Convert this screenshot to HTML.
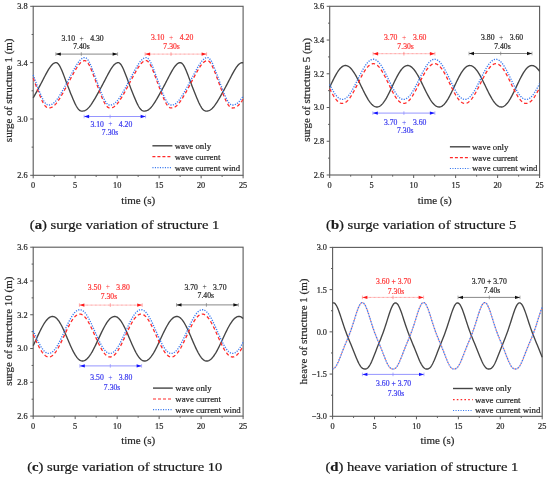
<!DOCTYPE html>
<html><head><meta charset="utf-8"><title>Figure</title>
<style>
html,body{margin:0;padding:0;background:#fff;}
body{width:550px;height:477px;overflow:hidden;}
svg{display:block;filter:blur(0.35px);}
svg text{font-family:"Liberation Serif", "DejaVu Serif", serif;}
.k{stroke:#2a2a2a;stroke-width:0.25px;}
</style></head>
<body>
<svg width="550" height="477" viewBox="0 0 550 477">
<rect width="550" height="477" fill="#fff"/>
<rect x="33.20" y="6.30" width="209.90" height="169.00" fill="none" stroke="#5a5a5a" stroke-width="1.1"/>
<line x1="33.20" y1="175.30" x2="33.20" y2="178.30" stroke="#5a5a5a" stroke-width="1"/>
<text x="33.20" y="187.90" font-size="8.3" text-anchor="middle" fill="#2a2a2a" stroke="#2a2a2a" stroke-width="0.22">0</text>
<line x1="75.18" y1="175.30" x2="75.18" y2="178.30" stroke="#5a5a5a" stroke-width="1"/>
<text x="75.18" y="187.90" font-size="8.3" text-anchor="middle" fill="#2a2a2a" stroke="#2a2a2a" stroke-width="0.22">5</text>
<line x1="117.16" y1="175.30" x2="117.16" y2="178.30" stroke="#5a5a5a" stroke-width="1"/>
<text x="117.16" y="187.90" font-size="8.3" text-anchor="middle" fill="#2a2a2a" stroke="#2a2a2a" stroke-width="0.22">10</text>
<line x1="159.14" y1="175.30" x2="159.14" y2="178.30" stroke="#5a5a5a" stroke-width="1"/>
<text x="159.14" y="187.90" font-size="8.3" text-anchor="middle" fill="#2a2a2a" stroke="#2a2a2a" stroke-width="0.22">15</text>
<line x1="201.12" y1="175.30" x2="201.12" y2="178.30" stroke="#5a5a5a" stroke-width="1"/>
<text x="201.12" y="187.90" font-size="8.3" text-anchor="middle" fill="#2a2a2a" stroke="#2a2a2a" stroke-width="0.22">20</text>
<line x1="243.10" y1="175.30" x2="243.10" y2="178.30" stroke="#5a5a5a" stroke-width="1"/>
<text x="243.10" y="187.90" font-size="8.3" text-anchor="middle" fill="#2a2a2a" stroke="#2a2a2a" stroke-width="0.22">25</text>
<line x1="54.19" y1="175.30" x2="54.19" y2="176.90" stroke="#5a5a5a" stroke-width="1"/>
<line x1="96.17" y1="175.30" x2="96.17" y2="176.90" stroke="#5a5a5a" stroke-width="1"/>
<line x1="138.15" y1="175.30" x2="138.15" y2="176.90" stroke="#5a5a5a" stroke-width="1"/>
<line x1="180.13" y1="175.30" x2="180.13" y2="176.90" stroke="#5a5a5a" stroke-width="1"/>
<line x1="222.11" y1="175.30" x2="222.11" y2="176.90" stroke="#5a5a5a" stroke-width="1"/>
<line x1="30.20" y1="175.30" x2="33.20" y2="175.30" stroke="#5a5a5a" stroke-width="1"/>
<text x="27.60" y="178.20" font-size="8.3" text-anchor="end" fill="#2a2a2a" stroke="#2a2a2a" stroke-width="0.22">2.6</text>
<line x1="30.20" y1="118.97" x2="33.20" y2="118.97" stroke="#5a5a5a" stroke-width="1"/>
<text x="27.60" y="121.87" font-size="8.3" text-anchor="end" fill="#2a2a2a" stroke="#2a2a2a" stroke-width="0.22">3.0</text>
<line x1="30.20" y1="62.63" x2="33.20" y2="62.63" stroke="#5a5a5a" stroke-width="1"/>
<text x="27.60" y="65.53" font-size="8.3" text-anchor="end" fill="#2a2a2a" stroke="#2a2a2a" stroke-width="0.22">3.4</text>
<line x1="30.20" y1="6.30" x2="33.20" y2="6.30" stroke="#5a5a5a" stroke-width="1"/>
<text x="27.60" y="9.20" font-size="8.3" text-anchor="end" fill="#2a2a2a" stroke="#2a2a2a" stroke-width="0.22">3.8</text>
<line x1="31.60" y1="147.13" x2="33.20" y2="147.13" stroke="#5a5a5a" stroke-width="1"/>
<line x1="31.60" y1="90.80" x2="33.20" y2="90.80" stroke="#5a5a5a" stroke-width="1"/>
<line x1="31.60" y1="34.47" x2="33.20" y2="34.47" stroke="#5a5a5a" stroke-width="1"/>
<text x="138.15" y="203.80" font-size="11" text-anchor="middle" fill="#2a2a2a" stroke="#2a2a2a" stroke-width="0.22">time (s)</text>
<text transform="translate(12.40,90.30) rotate(-90)" font-size="11" text-anchor="middle" fill="#2a2a2a" stroke="#2a2a2a" stroke-width="0.22">surge of structure 1 (m)</text>
<line x1="152.40" y1="145.80" x2="172.40" y2="145.80" stroke="#454545" stroke-width="1.4"/>
<line x1="152.40" y1="156.70" x2="172.40" y2="156.70" stroke="#ff2a2a" stroke-width="1.2" stroke-dasharray="3 2"/>
<line x1="152.40" y1="167.60" x2="172.40" y2="167.60" stroke="#3a7af0" stroke-width="1.2" stroke-dasharray="1.1 1.4"/>
<text x="174.70" y="148.70" font-size="8.8" fill="#2a2a2a" stroke="#2a2a2a" stroke-width="0.22">wave only</text>
<text x="174.70" y="159.60" font-size="8.8" fill="#2a2a2a" stroke="#2a2a2a" stroke-width="0.22">wave current</text>
<text x="174.70" y="170.50" font-size="8.8" fill="#2a2a2a" stroke="#2a2a2a" stroke-width="0.22">wave current wind</text>
<path d="M33.20,97.84 L33.90,96.62 L34.60,95.39 L35.30,94.14 L36.00,92.88 L36.70,91.61 L37.40,90.33 L38.10,89.04 L38.80,87.74 L39.50,86.43 L40.20,85.11 L40.90,83.78 L41.60,82.45 L42.30,81.10 L43.00,79.75 L43.70,78.41 L44.39,77.06 L45.09,75.73 L45.79,74.41 L46.49,73.11 L47.19,71.85 L47.89,70.63 L48.59,69.45 L49.29,68.34 L49.99,67.30 L50.69,66.34 L51.39,65.48 L52.09,64.71 L52.79,64.05 L53.49,63.52 L54.19,63.10 L54.89,62.81 L55.59,62.66 L56.29,62.65 L56.99,62.87 L57.69,63.35 L58.39,64.07 L59.09,65.01 L59.79,66.16 L60.49,67.49 L61.19,68.97 L61.89,70.57 L62.59,72.28 L63.29,74.06 L63.99,75.88 L64.69,77.74 L65.38,79.61 L66.08,81.48 L66.78,83.34 L67.48,85.18 L68.18,87.01 L68.88,88.82 L69.58,90.61 L70.28,92.38 L70.98,94.13 L71.68,95.85 L72.38,97.55 L73.08,99.21 L73.78,100.82 L74.48,102.38 L75.18,103.85 L75.88,105.23 L76.58,106.50 L77.28,107.64 L77.98,108.62 L78.68,109.45 L79.38,110.11 L80.08,110.59 L80.78,110.90 L81.48,111.05 L82.18,111.08 L82.88,111.05 L83.58,110.95 L84.28,110.78 L84.98,110.52 L85.67,110.17 L86.37,109.73 L87.07,109.20 L87.77,108.59 L88.47,107.88 L89.17,107.10 L89.87,106.25 L90.57,105.33 L91.27,104.35 L91.97,103.32 L92.67,102.24 L93.37,101.12 L94.07,99.97 L94.77,98.79 L95.47,97.59 L96.17,96.37 L96.87,95.14 L97.57,93.89 L98.27,92.63 L98.97,91.36 L99.67,90.07 L100.37,88.78 L101.07,87.48 L101.77,86.17 L102.47,84.85 L103.17,83.52 L103.87,82.18 L104.57,80.83 L105.27,79.48 L105.97,78.14 L106.66,76.79 L107.36,75.46 L108.06,74.15 L108.76,72.86 L109.46,71.60 L110.16,70.39 L110.86,69.23 L111.56,68.13 L112.26,67.10 L112.96,66.16 L113.66,65.32 L114.36,64.57 L115.06,63.94 L115.76,63.42 L116.46,63.03 L117.16,62.77 L117.86,62.65 L118.56,62.67 L119.26,62.95 L119.96,63.47 L120.66,64.24 L121.36,65.22 L122.06,66.41 L122.76,67.77 L123.46,69.28 L124.16,70.91 L124.86,72.63 L125.56,74.42 L126.26,76.25 L126.96,78.11 L127.65,79.98 L128.35,81.85 L129.05,83.71 L129.75,85.55 L130.45,87.37 L131.15,89.18 L131.85,90.96 L132.55,92.73 L133.25,94.47 L133.95,96.19 L134.65,97.88 L135.35,99.54 L136.05,101.14 L136.75,102.68 L137.45,104.14 L138.15,105.50 L138.85,106.74 L139.55,107.85 L140.25,108.80 L140.95,109.60 L141.65,110.22 L142.35,110.66 L143.05,110.94 L143.75,111.06 L144.45,111.08 L145.15,111.04 L145.85,110.93 L146.55,110.74 L147.25,110.46 L147.95,110.09 L148.64,109.63 L149.34,109.09 L150.04,108.45 L150.74,107.73 L151.44,106.94 L152.14,106.07 L152.84,105.14 L153.54,104.15 L154.24,103.11 L154.94,102.02 L155.64,100.90 L156.34,99.74 L157.04,98.56 L157.74,97.35 L158.44,96.13 L159.14,94.89 L159.84,93.64 L160.54,92.37 L161.24,91.10 L161.94,89.82 L162.64,88.52 L163.34,87.22 L164.04,85.90 L164.74,84.58 L165.44,83.25 L166.14,81.91 L166.84,80.56 L167.54,79.22 L168.24,77.87 L168.94,76.53 L169.63,75.20 L170.33,73.89 L171.03,72.60 L171.73,71.36 L172.43,70.15 L173.13,69.00 L173.83,67.92 L174.53,66.91 L175.23,65.99 L175.93,65.16 L176.63,64.43 L177.33,63.82 L178.03,63.33 L178.73,62.97 L179.43,62.74 L180.13,62.64 L180.83,62.71 L181.53,63.03 L182.23,63.61 L182.93,64.42 L183.63,65.45 L184.33,66.67 L185.03,68.06 L185.73,69.60 L186.43,71.25 L187.13,72.98 L187.83,74.78 L188.53,76.62 L189.23,78.49 L189.93,80.36 L190.62,82.22 L191.32,84.08 L192.02,85.92 L192.72,87.73 L193.42,89.54 L194.12,91.32 L194.82,93.08 L195.52,94.82 L196.22,96.53 L196.92,98.22 L197.62,99.86 L198.32,101.45 L199.02,102.98 L199.72,104.42 L200.42,105.75 L201.12,106.97 L201.82,108.05 L202.52,108.98 L203.22,109.73 L203.92,110.32 L204.62,110.73 L205.32,110.98 L206.02,111.07 L206.72,111.07 L207.42,111.02 L208.12,110.90 L208.82,110.69 L209.52,110.39 L210.22,110.01 L210.92,109.53 L211.61,108.97 L212.31,108.31 L213.01,107.58 L213.71,106.77 L214.41,105.89 L215.11,104.95 L215.81,103.94 L216.51,102.89 L217.21,101.80 L217.91,100.67 L218.61,99.50 L219.31,98.32 L220.01,97.11 L220.71,95.88 L221.41,94.64 L222.11,93.39 L222.81,92.12 L223.51,90.84 L224.21,89.56 L224.91,88.26 L225.61,86.96 L226.31,85.64 L227.01,84.32 L227.71,82.98 L228.41,81.64 L229.11,80.29 L229.81,78.95 L230.51,77.60 L231.21,76.26 L231.91,74.93 L232.60,73.63 L233.30,72.35 L234.00,71.11 L234.70,69.92 L235.40,68.78 L236.10,67.71 L236.80,66.72 L237.50,65.81 L238.20,65.00 L238.90,64.30 L239.60,63.72 L240.30,63.25 L241.00,62.91 L241.70,62.71 L242.40,62.63 L243.10,62.75" fill="none" stroke="#454545" stroke-width="1.35" stroke-linejoin="round" />
<path d="M33.20,77.97 L33.90,79.86 L34.60,81.76 L35.30,83.65 L36.00,85.53 L36.70,87.40 L37.40,89.25 L38.10,91.08 L38.80,92.87 L39.50,94.64 L40.20,96.35 L40.90,98.01 L41.60,99.59 L42.30,101.09 L43.00,102.47 L43.70,103.73 L44.39,104.85 L45.09,105.81 L45.79,106.60 L46.49,107.21 L47.19,107.64 L47.89,107.89 L48.59,107.98 L49.29,107.96 L49.99,107.88 L50.69,107.72 L51.39,107.47 L52.09,107.13 L52.79,106.71 L53.49,106.19 L54.19,105.60 L54.89,104.91 L55.59,104.16 L56.29,103.33 L56.99,102.43 L57.69,101.47 L58.39,100.46 L59.09,99.40 L59.79,98.29 L60.49,97.15 L61.19,95.98 L61.89,94.78 L62.59,93.56 L63.29,92.32 L63.99,91.06 L64.69,89.79 L65.38,88.50 L66.08,87.21 L66.78,85.91 L67.48,84.60 L68.18,83.28 L68.88,81.96 L69.58,80.64 L70.28,79.32 L70.98,78.00 L71.68,76.68 L72.38,75.38 L73.08,74.09 L73.78,72.81 L74.48,71.56 L75.18,70.34 L75.88,69.16 L76.58,68.03 L77.28,66.94 L77.98,65.92 L78.68,64.97 L79.38,64.09 L80.08,63.30 L80.78,62.60 L81.48,62.00 L82.18,61.51 L82.88,61.12 L83.58,60.85 L84.28,60.70 L84.98,60.67 L85.67,60.84 L86.37,61.25 L87.07,61.89 L87.77,62.75 L88.47,63.81 L89.17,65.05 L89.87,66.45 L90.57,67.98 L91.27,69.62 L91.97,71.34 L92.67,73.13 L93.37,74.97 L94.07,76.84 L94.77,78.73 L95.47,80.62 L96.17,82.52 L96.87,84.40 L97.57,86.28 L98.27,88.14 L98.97,89.98 L99.67,91.80 L100.37,93.58 L101.07,95.33 L101.77,97.02 L102.47,98.65 L103.17,100.20 L103.87,101.65 L104.57,102.99 L105.27,104.20 L105.97,105.26 L106.66,106.15 L107.36,106.87 L108.06,107.41 L108.76,107.76 L109.46,107.94 L110.16,107.98 L110.86,107.94 L111.56,107.83 L112.26,107.63 L112.96,107.35 L113.66,106.97 L114.36,106.51 L115.06,105.96 L115.76,105.33 L116.46,104.62 L117.16,103.83 L117.86,102.97 L118.56,102.05 L119.26,101.07 L119.96,100.04 L120.66,98.96 L121.36,97.84 L122.06,96.69 L122.76,95.51 L123.46,94.30 L124.16,93.07 L124.86,91.82 L125.56,90.55 L126.26,89.27 L126.96,87.99 L127.65,86.69 L128.35,85.38 L129.05,84.07 L129.75,82.75 L130.45,81.43 L131.15,80.11 L131.85,78.79 L132.55,77.47 L133.25,76.16 L133.95,74.86 L134.65,73.57 L135.35,72.31 L136.05,71.07 L136.75,69.87 L137.45,68.70 L138.15,67.59 L138.85,66.53 L139.55,65.53 L140.25,64.61 L140.95,63.77 L141.65,63.01 L142.35,62.35 L143.05,61.79 L143.75,61.34 L144.45,61.00 L145.15,60.78 L145.85,60.67 L146.55,60.71 L147.25,60.97 L147.95,61.48 L148.64,62.21 L149.34,63.15 L150.04,64.29 L150.74,65.59 L151.44,67.04 L152.14,68.62 L152.84,70.30 L153.54,72.05 L154.24,73.86 L154.94,75.72 L155.64,77.59 L156.34,79.49 L157.04,81.38 L157.74,83.27 L158.44,85.16 L159.14,87.03 L159.84,88.88 L160.54,90.71 L161.24,92.52 L161.94,94.29 L162.64,96.01 L163.34,97.68 L164.04,99.28 L164.74,100.80 L165.44,102.20 L166.14,103.49 L166.84,104.64 L167.54,105.63 L168.24,106.46 L168.94,107.11 L169.63,107.57 L170.33,107.86 L171.03,107.97 L171.73,107.97 L172.43,107.90 L173.13,107.76 L173.83,107.53 L174.53,107.21 L175.23,106.80 L175.93,106.30 L176.63,105.72 L177.33,105.06 L178.03,104.31 L178.73,103.50 L179.43,102.61 L180.13,101.67 L180.83,100.67 L181.53,99.61 L182.23,98.52 L182.93,97.39 L183.63,96.22 L184.33,95.02 L185.03,93.81 L185.73,92.57 L186.43,91.31 L187.13,90.04 L187.83,88.76 L188.53,87.47 L189.23,86.17 L189.93,84.86 L190.62,83.54 L191.32,82.23 L192.02,80.90 L192.72,79.58 L193.42,78.26 L194.12,76.95 L194.82,75.64 L195.52,74.34 L196.22,73.07 L196.92,71.81 L197.62,70.59 L198.32,69.40 L199.02,68.25 L199.72,67.16 L200.42,66.12 L201.12,65.15 L201.82,64.26 L202.52,63.45 L203.22,62.74 L203.92,62.12 L204.62,61.60 L205.32,61.19 L206.02,60.90 L206.72,60.72 L207.42,60.66 L208.12,60.78 L208.82,61.15 L209.52,61.74 L210.22,62.56 L210.92,63.58 L211.61,64.79 L212.31,66.16 L213.01,67.66 L213.71,69.28 L214.41,70.99 L215.11,72.77 L215.81,74.60 L216.51,76.47 L217.21,78.35 L217.91,80.24 L218.61,82.14 L219.31,84.03 L220.01,85.91 L220.71,87.77 L221.41,89.62 L222.11,91.44 L222.81,93.23 L223.51,94.98 L224.21,96.69 L224.91,98.33 L225.61,99.90 L226.31,101.37 L227.01,102.74 L227.71,103.97 L228.41,105.06 L229.11,105.98 L229.81,106.74 L230.51,107.31 L231.21,107.71 L231.91,107.92 L232.60,107.98 L233.30,107.95 L234.00,107.86 L234.70,107.68 L235.40,107.41 L236.10,107.06 L236.80,106.61 L237.50,106.08 L238.20,105.47 L238.90,104.77 L239.60,104.00 L240.30,103.15 L241.00,102.24 L241.70,101.27 L242.40,100.25 L243.10,99.18" fill="none" stroke="#ff2a2a" stroke-width="1.3" stroke-dasharray="3.4 2.5" stroke-linejoin="round" />
<path d="M33.20,74.93 L33.90,76.82 L34.60,78.72 L35.30,80.62 L36.00,82.51 L36.70,84.38 L37.40,86.24 L38.10,88.07 L38.80,89.87 L39.50,91.64 L40.20,93.36 L40.90,95.02 L41.60,96.61 L42.30,98.11 L43.00,99.50 L43.70,100.76 L44.39,101.89 L45.09,102.85 L45.79,103.64 L46.49,104.25 L47.19,104.68 L47.89,104.93 L48.59,105.02 L49.29,105.01 L49.99,104.92 L50.69,104.76 L51.39,104.51 L52.09,104.17 L52.79,103.75 L53.49,103.23 L54.19,102.63 L54.89,101.95 L55.59,101.19 L56.29,100.35 L56.99,99.45 L57.69,98.49 L58.39,97.48 L59.09,96.42 L59.79,95.31 L60.49,94.16 L61.19,92.99 L61.89,91.79 L62.59,90.56 L63.29,89.31 L63.99,88.05 L64.69,86.78 L65.38,85.49 L66.08,84.19 L66.78,82.88 L67.48,81.57 L68.18,80.25 L68.88,78.93 L69.58,77.60 L70.28,76.28 L70.98,74.95 L71.68,73.63 L72.38,72.32 L73.08,71.03 L73.78,69.75 L74.48,68.50 L75.18,67.28 L75.88,66.09 L76.58,64.95 L77.28,63.87 L77.98,62.84 L78.68,61.88 L79.38,61.01 L80.08,60.21 L80.78,59.51 L81.48,58.91 L82.18,58.41 L82.88,58.03 L83.58,57.76 L84.28,57.60 L84.98,57.57 L85.67,57.74 L86.37,58.15 L87.07,58.80 L87.77,59.66 L88.47,60.72 L89.17,61.96 L89.87,63.36 L90.57,64.90 L91.27,66.54 L91.97,68.28 L92.67,70.07 L93.37,71.92 L94.07,73.79 L94.77,75.68 L95.47,77.58 L96.17,79.48 L96.87,81.38 L97.57,83.26 L98.27,85.12 L98.97,86.97 L99.67,88.79 L100.37,90.58 L101.07,92.33 L101.77,94.03 L102.47,95.67 L103.17,97.22 L103.87,98.68 L104.57,100.02 L105.27,101.23 L105.97,102.29 L106.66,103.19 L107.36,103.91 L108.06,104.45 L108.76,104.80 L109.46,104.99 L110.16,105.02 L110.86,104.98 L111.56,104.87 L112.26,104.67 L112.96,104.39 L113.66,104.01 L114.36,103.55 L115.06,103.00 L115.76,102.37 L116.46,101.65 L117.16,100.86 L117.86,100.00 L118.56,99.08 L119.26,98.09 L119.96,97.06 L120.66,95.98 L121.36,94.86 L122.06,93.70 L122.76,92.51 L123.46,91.30 L124.16,90.06 L124.86,88.81 L125.56,87.54 L126.26,86.26 L126.96,84.97 L127.65,83.67 L128.35,82.36 L129.05,81.04 L129.75,79.72 L130.45,78.40 L131.15,77.07 L131.85,75.75 L132.55,74.42 L133.25,73.11 L133.95,71.80 L134.65,70.51 L135.35,69.25 L136.05,68.00 L136.75,66.80 L137.45,65.63 L138.15,64.51 L138.85,63.45 L139.55,62.45 L140.25,61.52 L140.95,60.68 L141.65,59.92 L142.35,59.26 L143.05,58.70 L143.75,58.25 L144.45,57.91 L145.15,57.68 L145.85,57.57 L146.55,57.61 L147.25,57.88 L147.95,58.38 L148.64,59.11 L149.34,60.06 L150.04,61.20 L150.74,62.51 L151.44,63.96 L152.14,65.55 L152.84,67.23 L153.54,68.99 L154.24,70.81 L154.94,72.66 L155.64,74.55 L156.34,76.44 L157.04,78.34 L157.74,80.24 L158.44,82.13 L159.14,84.01 L159.84,85.87 L160.54,87.70 L161.24,89.51 L161.94,91.29 L162.64,93.02 L163.34,94.70 L164.04,96.30 L164.74,97.82 L165.44,99.23 L166.14,100.52 L166.84,101.67 L167.54,102.67 L168.24,103.50 L168.94,104.15 L169.63,104.61 L170.33,104.90 L171.03,105.02 L171.73,105.02 L172.43,104.95 L173.13,104.80 L173.83,104.57 L174.53,104.25 L175.23,103.84 L175.93,103.34 L176.63,102.76 L177.33,102.09 L178.03,101.35 L178.73,100.53 L179.43,99.64 L180.13,98.69 L180.83,97.69 L181.53,96.63 L182.23,95.53 L182.93,94.40 L183.63,93.23 L184.33,92.03 L185.03,90.81 L185.73,89.56 L186.43,88.30 L187.13,87.03 L187.83,85.75 L188.53,84.45 L189.23,83.14 L189.93,81.83 L190.62,80.51 L191.32,79.19 L192.02,77.87 L192.72,76.54 L193.42,75.22 L194.12,73.90 L194.82,72.58 L195.52,71.29 L196.22,70.00 L196.92,68.75 L197.62,67.52 L198.32,66.32 L199.02,65.18 L199.72,64.08 L200.42,63.04 L201.12,62.07 L201.82,61.17 L202.52,60.36 L203.22,59.64 L203.92,59.02 L204.62,58.50 L205.32,58.10 L206.02,57.80 L206.72,57.62 L207.42,57.56 L208.12,57.69 L208.82,58.05 L209.52,58.65 L210.22,59.47 L210.92,60.49 L211.61,61.70 L212.31,63.07 L213.01,64.58 L213.71,66.21 L214.41,67.92 L215.11,69.71 L215.81,71.54 L216.51,73.41 L217.21,75.30 L217.91,77.20 L218.61,79.10 L219.31,81.00 L220.01,82.88 L220.71,84.75 L221.41,86.60 L222.11,88.43 L222.81,90.23 L223.51,91.99 L224.21,93.70 L224.91,95.35 L225.61,96.92 L226.31,98.40 L227.01,99.76 L227.71,101.00 L228.41,102.09 L229.11,103.02 L229.81,103.78 L230.51,104.35 L231.21,104.75 L231.91,104.96 L232.60,105.02 L233.30,105.00 L234.00,104.90 L234.70,104.72 L235.40,104.45 L236.10,104.10 L236.80,103.65 L237.50,103.12 L238.20,102.50 L238.90,101.80 L239.60,101.03 L240.30,100.18 L241.00,99.27 L241.70,98.30 L242.40,97.27 L243.10,96.20" fill="none" stroke="#3a7af0" stroke-width="1.35" stroke-dasharray="1.2 1.3" stroke-linejoin="round" />
<line x1="55.80" y1="54.10" x2="117.60" y2="54.10" stroke="#7a7a7a" stroke-width="0.9"/>
<path d="M55.80,54.10 L60.80,52.40 L60.80,55.80 Z" fill="#111"/>
<path d="M117.60,54.10 L112.60,52.40 L112.60,55.80 Z" fill="#111"/>
<line x1="55.80" y1="52.30" x2="55.80" y2="55.90" stroke="#7a7a7a" stroke-width="0.6"/>
<line x1="117.60" y1="52.30" x2="117.60" y2="55.90" stroke="#7a7a7a" stroke-width="0.6"/>
<line x1="81.30" y1="52.30" x2="81.30" y2="55.90" stroke="#7a7a7a" stroke-width="0.7"/>
<text x="61.60" y="40.70" font-size="7.7" fill="#2a2a2a" stroke="#2a2a2a" stroke-width="0.22">3.10</text>
<text x="81.60" y="40.50" font-size="7.5" text-anchor="middle" fill="#2a2a2a" stroke="none">+</text>
<text x="103.60" y="40.70" font-size="7.7" text-anchor="end" fill="#2a2a2a" stroke="#2a2a2a" stroke-width="0.22">4.30</text>
<text x="81.40" y="48.90" font-size="7.7" text-anchor="middle" fill="#2a2a2a" stroke="#2a2a2a" stroke-width="0.22">7.40s</text>
<line x1="145.10" y1="54.10" x2="206.60" y2="54.10" stroke="#ff7a7a" stroke-width="0.9" stroke-dasharray="0.8 0.5"/>
<path d="M145.10,54.10 L150.10,52.40 L150.10,55.80 Z" fill="#ff1a1a"/>
<path d="M206.60,54.10 L201.60,52.40 L201.60,55.80 Z" fill="#ff1a1a"/>
<line x1="145.10" y1="52.30" x2="145.10" y2="55.90" stroke="#ff7a7a" stroke-width="0.6"/>
<line x1="206.60" y1="52.30" x2="206.60" y2="55.90" stroke="#ff7a7a" stroke-width="0.6"/>
<line x1="171.00" y1="52.30" x2="171.00" y2="55.90" stroke="#ff7a7a" stroke-width="0.7"/>
<text x="150.90" y="40.40" font-size="7.7" fill="#ff3838" stroke="#ff3838" stroke-width="0.22">3.10</text>
<text x="171.10" y="40.20" font-size="7.5" text-anchor="middle" fill="#ff3838" stroke="none">+</text>
<text x="193.30" y="40.40" font-size="7.7" text-anchor="end" fill="#ff3838" stroke="#ff3838" stroke-width="0.22">4.20</text>
<text x="171.60" y="48.90" font-size="7.7" text-anchor="middle" fill="#ff3838" stroke="#ff3838" stroke-width="0.22">7.30s</text>
<line x1="84.10" y1="116.50" x2="145.60" y2="116.50" stroke="#8a8aff" stroke-width="0.9"/>
<path d="M84.10,116.50 L89.10,114.80 L89.10,118.20 Z" fill="#1414ff"/>
<path d="M145.60,116.50 L140.60,114.80 L140.60,118.20 Z" fill="#1414ff"/>
<line x1="84.10" y1="114.70" x2="84.10" y2="118.30" stroke="#8a8aff" stroke-width="0.6"/>
<line x1="145.60" y1="114.70" x2="145.60" y2="118.30" stroke="#8a8aff" stroke-width="0.6"/>
<line x1="110.10" y1="114.70" x2="110.10" y2="118.30" stroke="#8a8aff" stroke-width="0.7"/>
<text x="90.50" y="126.60" font-size="7.7" fill="#4040f0" stroke="#4040f0" stroke-width="0.22">3.10</text>
<text x="110.40" y="126.40" font-size="7.5" text-anchor="middle" fill="#4040f0" stroke="none">+</text>
<text x="132.30" y="126.60" font-size="7.7" text-anchor="end" fill="#4040f0" stroke="#4040f0" stroke-width="0.22">4.20</text>
<text x="110.10" y="135.30" font-size="7.7" text-anchor="middle" fill="#4040f0" stroke="#4040f0" stroke-width="0.22">7.30s</text>
<rect x="329.70" y="6.30" width="209.90" height="168.70" fill="none" stroke="#5a5a5a" stroke-width="1.1"/>
<line x1="329.70" y1="175.00" x2="329.70" y2="178.00" stroke="#5a5a5a" stroke-width="1"/>
<text x="329.70" y="187.70" font-size="8.3" text-anchor="middle" fill="#2a2a2a" stroke="#2a2a2a" stroke-width="0.22">0</text>
<line x1="371.68" y1="175.00" x2="371.68" y2="178.00" stroke="#5a5a5a" stroke-width="1"/>
<text x="371.68" y="187.70" font-size="8.3" text-anchor="middle" fill="#2a2a2a" stroke="#2a2a2a" stroke-width="0.22">5</text>
<line x1="413.66" y1="175.00" x2="413.66" y2="178.00" stroke="#5a5a5a" stroke-width="1"/>
<text x="413.66" y="187.70" font-size="8.3" text-anchor="middle" fill="#2a2a2a" stroke="#2a2a2a" stroke-width="0.22">10</text>
<line x1="455.64" y1="175.00" x2="455.64" y2="178.00" stroke="#5a5a5a" stroke-width="1"/>
<text x="455.64" y="187.70" font-size="8.3" text-anchor="middle" fill="#2a2a2a" stroke="#2a2a2a" stroke-width="0.22">15</text>
<line x1="497.62" y1="175.00" x2="497.62" y2="178.00" stroke="#5a5a5a" stroke-width="1"/>
<text x="497.62" y="187.70" font-size="8.3" text-anchor="middle" fill="#2a2a2a" stroke="#2a2a2a" stroke-width="0.22">20</text>
<line x1="539.60" y1="175.00" x2="539.60" y2="178.00" stroke="#5a5a5a" stroke-width="1"/>
<text x="539.60" y="187.70" font-size="8.3" text-anchor="middle" fill="#2a2a2a" stroke="#2a2a2a" stroke-width="0.22">25</text>
<line x1="350.69" y1="175.00" x2="350.69" y2="176.60" stroke="#5a5a5a" stroke-width="1"/>
<line x1="392.67" y1="175.00" x2="392.67" y2="176.60" stroke="#5a5a5a" stroke-width="1"/>
<line x1="434.65" y1="175.00" x2="434.65" y2="176.60" stroke="#5a5a5a" stroke-width="1"/>
<line x1="476.63" y1="175.00" x2="476.63" y2="176.60" stroke="#5a5a5a" stroke-width="1"/>
<line x1="518.61" y1="175.00" x2="518.61" y2="176.60" stroke="#5a5a5a" stroke-width="1"/>
<line x1="326.70" y1="175.00" x2="329.70" y2="175.00" stroke="#5a5a5a" stroke-width="1"/>
<text x="324.10" y="177.90" font-size="8.3" text-anchor="end" fill="#2a2a2a" stroke="#2a2a2a" stroke-width="0.22">2.6</text>
<line x1="326.70" y1="141.26" x2="329.70" y2="141.26" stroke="#5a5a5a" stroke-width="1"/>
<text x="324.10" y="144.16" font-size="8.3" text-anchor="end" fill="#2a2a2a" stroke="#2a2a2a" stroke-width="0.22">2.8</text>
<line x1="326.70" y1="107.52" x2="329.70" y2="107.52" stroke="#5a5a5a" stroke-width="1"/>
<text x="324.10" y="110.42" font-size="8.3" text-anchor="end" fill="#2a2a2a" stroke="#2a2a2a" stroke-width="0.22">3.0</text>
<line x1="326.70" y1="73.78" x2="329.70" y2="73.78" stroke="#5a5a5a" stroke-width="1"/>
<text x="324.10" y="76.68" font-size="8.3" text-anchor="end" fill="#2a2a2a" stroke="#2a2a2a" stroke-width="0.22">3.2</text>
<line x1="326.70" y1="40.04" x2="329.70" y2="40.04" stroke="#5a5a5a" stroke-width="1"/>
<text x="324.10" y="42.94" font-size="8.3" text-anchor="end" fill="#2a2a2a" stroke="#2a2a2a" stroke-width="0.22">3.4</text>
<line x1="326.70" y1="6.30" x2="329.70" y2="6.30" stroke="#5a5a5a" stroke-width="1"/>
<text x="324.10" y="9.20" font-size="8.3" text-anchor="end" fill="#2a2a2a" stroke="#2a2a2a" stroke-width="0.22">3.6</text>
<line x1="328.10" y1="158.13" x2="329.70" y2="158.13" stroke="#5a5a5a" stroke-width="1"/>
<line x1="328.10" y1="124.39" x2="329.70" y2="124.39" stroke="#5a5a5a" stroke-width="1"/>
<line x1="328.10" y1="90.65" x2="329.70" y2="90.65" stroke="#5a5a5a" stroke-width="1"/>
<line x1="328.10" y1="56.91" x2="329.70" y2="56.91" stroke="#5a5a5a" stroke-width="1"/>
<line x1="328.10" y1="23.17" x2="329.70" y2="23.17" stroke="#5a5a5a" stroke-width="1"/>
<text x="434.65" y="203.60" font-size="11" text-anchor="middle" fill="#2a2a2a" stroke="#2a2a2a" stroke-width="0.22">time (s)</text>
<text transform="translate(310.20,90.00) rotate(-90)" font-size="11" text-anchor="middle" fill="#2a2a2a" stroke="#2a2a2a" stroke-width="0.22">surge of structure 5 (m)</text>
<line x1="449.90" y1="146.80" x2="470.20" y2="146.80" stroke="#454545" stroke-width="1.4"/>
<line x1="449.90" y1="157.70" x2="470.20" y2="157.70" stroke="#ff2a2a" stroke-width="1.2" stroke-dasharray="3 2"/>
<line x1="449.90" y1="168.50" x2="470.20" y2="168.50" stroke="#3a7af0" stroke-width="1.2" stroke-dasharray="1.1 1.4"/>
<text x="472.00" y="149.70" font-size="8.8" fill="#2a2a2a" stroke="#2a2a2a" stroke-width="0.22">wave only</text>
<text x="472.00" y="160.60" font-size="8.8" fill="#2a2a2a" stroke="#2a2a2a" stroke-width="0.22">wave current</text>
<text x="472.00" y="171.40" font-size="8.8" fill="#2a2a2a" stroke="#2a2a2a" stroke-width="0.22">wave current wind</text>
<path d="M329.70,87.25 L330.40,85.76 L331.10,84.27 L331.80,82.80 L332.50,81.34 L333.20,79.91 L333.90,78.51 L334.60,77.15 L335.30,75.84 L336.00,74.58 L336.70,73.38 L337.40,72.25 L338.10,71.19 L338.80,70.20 L339.50,69.30 L340.19,68.49 L340.89,67.77 L341.59,67.14 L342.29,66.61 L342.99,66.19 L343.69,65.86 L344.39,65.64 L345.09,65.53 L345.79,65.52 L346.49,65.62 L347.19,65.81 L347.89,66.11 L348.59,66.50 L349.29,66.99 L349.99,67.58 L350.69,68.25 L351.39,69.01 L352.09,69.86 L352.79,70.79 L353.49,71.79 L354.19,72.86 L354.89,74.00 L355.59,75.19 L356.29,76.45 L356.99,77.74 L357.69,79.09 L358.39,80.46 L359.09,81.86 L359.79,83.29 L360.49,84.73 L361.19,86.18 L361.88,87.62 L362.58,89.07 L363.28,90.49 L363.98,91.90 L364.68,93.28 L365.38,94.62 L366.08,95.93 L366.78,97.19 L367.48,98.39 L368.18,99.54 L368.88,100.62 L369.58,101.63 L370.28,102.56 L370.98,103.42 L371.68,104.19 L372.38,104.88 L373.08,105.47 L373.78,105.97 L374.48,106.38 L375.18,106.68 L375.88,106.89 L376.58,107.00 L377.28,107.00 L377.98,106.90 L378.68,106.70 L379.38,106.39 L380.08,105.97 L380.78,105.45 L381.48,104.84 L382.18,104.13 L382.87,103.33 L383.57,102.44 L384.27,101.46 L384.97,100.41 L385.67,99.29 L386.37,98.10 L387.07,96.84 L387.77,95.54 L388.47,94.18 L389.17,92.79 L389.87,91.36 L390.57,89.91 L391.27,88.43 L391.97,86.95 L392.67,85.46 L393.37,83.98 L394.07,82.50 L394.77,81.05 L395.47,79.63 L396.17,78.23 L396.87,76.88 L397.57,75.58 L398.27,74.33 L398.97,73.15 L399.67,72.03 L400.37,70.98 L401.07,70.02 L401.77,69.13 L402.47,68.34 L403.16,67.64 L403.86,67.03 L404.56,66.52 L405.26,66.11 L405.96,65.81 L406.66,65.61 L407.36,65.52 L408.06,65.53 L408.76,65.65 L409.46,65.87 L410.16,66.18 L410.86,66.59 L411.56,67.10 L412.26,67.70 L412.96,68.40 L413.66,69.18 L414.36,70.04 L415.06,70.98 L415.76,72.00 L416.46,73.08 L417.16,74.23 L417.86,75.44 L418.56,76.70 L419.26,78.01 L419.96,79.36 L420.66,80.74 L421.36,82.15 L422.06,83.58 L422.76,85.02 L423.46,86.47 L424.15,87.91 L424.85,89.35 L425.55,90.78 L426.25,92.18 L426.95,93.55 L427.65,94.89 L428.35,96.18 L429.05,97.43 L429.75,98.62 L430.45,99.76 L431.15,100.82 L431.85,101.82 L432.55,102.74 L433.25,103.58 L433.95,104.33 L434.65,105.00 L435.35,105.58 L436.05,106.06 L436.75,106.45 L437.45,106.73 L438.15,106.92 L438.85,107.01 L439.55,106.99 L440.25,106.87 L440.95,106.64 L441.65,106.31 L442.35,105.88 L443.05,105.34 L443.75,104.70 L444.45,103.98 L445.14,103.16 L445.84,102.25 L446.54,101.26 L447.24,100.19 L447.94,99.05 L448.64,97.85 L449.34,96.59 L450.04,95.27 L450.74,93.91 L451.44,92.51 L452.14,91.07 L452.84,89.61 L453.54,88.14 L454.24,86.65 L454.94,85.16 L455.64,83.68 L456.34,82.21 L457.04,80.76 L457.74,79.34 L458.44,77.96 L459.14,76.62 L459.84,75.33 L460.54,74.09 L461.24,72.92 L461.94,71.81 L462.64,70.78 L463.34,69.83 L464.04,68.97 L464.74,68.19 L465.44,67.51 L466.13,66.92 L466.83,66.43 L467.53,66.04 L468.23,65.76 L468.93,65.59 L469.63,65.52 L470.33,65.55 L471.03,65.68 L471.73,65.92 L472.43,66.25 L473.13,66.69 L473.83,67.21 L474.53,67.83 L475.23,68.54 L475.93,69.34 L476.63,70.22 L477.33,71.18 L478.03,72.21 L478.73,73.31 L479.43,74.47 L480.13,75.69 L480.83,76.96 L481.53,78.28 L482.23,79.63 L482.93,81.02 L483.63,82.43 L484.33,83.86 L485.03,85.31 L485.73,86.76 L486.43,88.20 L487.12,89.64 L487.82,91.06 L488.52,92.46 L489.22,93.82 L489.92,95.15 L490.62,96.44 L491.32,97.67 L492.02,98.86 L492.72,99.98 L493.42,101.03 L494.12,102.01 L494.82,102.91 L495.52,103.74 L496.22,104.48 L496.92,105.12 L497.62,105.68 L498.32,106.14 L499.02,106.51 L499.72,106.78 L500.42,106.95 L501.12,107.01 L501.82,106.98 L502.52,106.83 L503.22,106.58 L503.92,106.23 L504.62,105.78 L505.32,105.22 L506.02,104.57 L506.72,103.82 L507.42,102.98 L508.12,102.06 L508.81,101.05 L509.51,99.97 L510.21,98.82 L510.91,97.60 L511.61,96.33 L512.31,95.00 L513.01,93.63 L513.71,92.22 L514.41,90.78 L515.11,89.32 L515.81,87.84 L516.51,86.35 L517.21,84.87 L517.91,83.39 L518.61,81.92 L519.31,80.48 L520.01,79.06 L520.71,77.69 L521.41,76.36 L522.11,75.08 L522.81,73.85 L523.51,72.69 L524.21,71.60 L524.91,70.59 L525.61,69.65 L526.31,68.80 L527.01,68.05 L527.71,67.38 L528.41,66.81 L529.11,66.35 L529.80,65.98 L530.50,65.72 L531.20,65.56 L531.90,65.51 L532.60,65.57 L533.30,65.72 L534.00,65.98 L534.70,66.33 L535.40,66.78 L536.10,67.33 L536.80,67.97 L537.50,68.70 L538.20,69.51 L538.90,70.41 L539.60,71.38" fill="none" stroke="#454545" stroke-width="1.35" stroke-linejoin="round" />
<path d="M329.70,88.72 L330.40,90.10 L331.10,91.45 L331.80,92.76 L332.50,94.02 L333.20,95.22 L333.90,96.36 L334.60,97.43 L335.30,98.44 L336.00,99.36 L336.70,100.20 L337.40,100.95 L338.10,101.61 L338.80,102.17 L339.50,102.63 L340.19,103.00 L340.89,103.26 L341.59,103.42 L342.29,103.47 L342.99,103.42 L343.69,103.27 L344.39,103.02 L345.09,102.68 L345.79,102.24 L346.49,101.70 L347.19,101.08 L347.89,100.37 L348.59,99.57 L349.29,98.69 L349.99,97.74 L350.69,96.72 L351.39,95.63 L352.09,94.48 L352.79,93.27 L353.49,92.02 L354.19,90.72 L354.89,89.39 L355.59,88.03 L356.29,86.65 L356.99,85.25 L357.69,83.85 L358.39,82.44 L359.09,81.04 L359.79,79.65 L360.49,78.28 L361.19,76.93 L361.88,75.62 L362.58,74.35 L363.28,73.13 L363.98,71.96 L364.68,70.84 L365.38,69.79 L366.08,68.81 L366.78,67.90 L367.48,67.07 L368.18,66.32 L368.88,65.66 L369.58,65.09 L370.28,64.61 L370.98,64.23 L371.68,63.94 L372.38,63.76 L373.08,63.67 L373.78,63.68 L374.48,63.79 L375.18,64.01 L375.88,64.34 L376.58,64.76 L377.28,65.29 L377.98,65.91 L378.68,66.62 L379.38,67.43 L380.08,68.32 L380.78,69.29 L381.48,70.33 L382.18,71.45 L382.87,72.63 L383.57,73.86 L384.27,75.15 L384.97,76.48 L385.67,77.86 L386.37,79.26 L387.07,80.68 L387.77,82.12 L388.47,83.56 L389.17,85.01 L389.87,86.45 L390.57,87.87 L391.27,89.27 L391.97,90.64 L392.67,91.98 L393.37,93.27 L394.07,94.50 L394.77,95.68 L395.47,96.80 L396.17,97.84 L396.87,98.81 L397.57,99.70 L398.27,100.51 L398.97,101.22 L399.67,101.84 L400.37,102.37 L401.07,102.79 L401.77,103.12 L402.47,103.34 L403.16,103.45 L403.86,103.46 L404.56,103.37 L405.26,103.18 L405.96,102.90 L406.66,102.51 L407.36,102.04 L408.06,101.46 L408.76,100.80 L409.46,100.06 L410.16,99.23 L410.86,98.32 L411.56,97.34 L412.26,96.29 L412.96,95.17 L413.66,94.00 L414.36,92.78 L415.06,91.51 L415.76,90.20 L416.46,88.85 L417.16,87.48 L417.86,86.09 L418.56,84.69 L419.26,83.28 L419.96,81.88 L420.66,80.48 L421.36,79.10 L422.06,77.74 L422.76,76.40 L423.46,75.11 L424.15,73.86 L424.85,72.65 L425.55,71.50 L426.25,70.41 L426.95,69.39 L427.65,68.44 L428.35,67.56 L429.05,66.76 L429.75,66.05 L430.45,65.43 L431.15,64.89 L431.85,64.45 L432.55,64.10 L433.25,63.86 L433.95,63.71 L434.65,63.66 L435.35,63.71 L436.05,63.87 L436.75,64.13 L437.45,64.49 L438.15,64.96 L438.85,65.52 L439.55,66.18 L440.25,66.93 L440.95,67.77 L441.65,68.69 L442.35,69.69 L443.05,70.77 L443.75,71.91 L444.45,73.11 L445.14,74.37 L445.84,75.68 L446.54,77.03 L447.24,78.41 L447.94,79.82 L448.64,81.25 L449.34,82.70 L450.04,84.14 L450.74,85.59 L451.44,87.02 L452.14,88.44 L452.84,89.83 L453.54,91.18 L454.24,92.50 L454.94,93.77 L455.64,94.98 L456.34,96.14 L457.04,97.23 L457.74,98.24 L458.44,99.18 L459.14,100.04 L459.84,100.80 L460.54,101.48 L461.24,102.06 L461.94,102.55 L462.64,102.93 L463.34,103.22 L464.04,103.40 L464.74,103.47 L465.44,103.44 L466.13,103.31 L466.83,103.08 L467.53,102.76 L468.23,102.33 L468.93,101.82 L469.63,101.21 L470.33,100.52 L471.03,99.74 L471.73,98.87 L472.43,97.94 L473.13,96.93 L473.83,95.85 L474.53,94.71 L475.23,93.52 L475.93,92.27 L476.63,90.99 L477.33,89.66 L478.03,88.31 L478.73,86.93 L479.43,85.53 L480.13,84.13 L480.83,82.72 L481.53,81.32 L482.23,79.92 L482.93,78.55 L483.63,77.20 L484.33,75.88 L485.03,74.60 L485.73,73.37 L486.43,72.19 L487.12,71.06 L487.82,70.00 L488.52,69.00 L489.22,68.08 L489.92,67.23 L490.62,66.47 L491.32,65.79 L492.02,65.20 L492.72,64.70 L493.42,64.30 L494.12,63.99 L494.82,63.79 L495.52,63.68 L496.22,63.67 L496.92,63.76 L497.62,63.96 L498.32,64.26 L499.02,64.67 L499.72,65.17 L500.42,65.78 L501.12,66.47 L501.82,67.26 L502.52,68.13 L503.22,69.09 L503.92,70.12 L504.62,71.22 L505.32,72.39 L506.02,73.61 L506.72,74.89 L507.42,76.21 L508.12,77.58 L508.81,78.97 L509.51,80.39 L510.21,81.83 L510.91,83.28 L511.61,84.72 L512.31,86.16 L513.01,87.59 L513.71,89.00 L514.41,90.37 L515.11,91.71 L515.81,93.01 L516.51,94.26 L517.21,95.45 L517.91,96.58 L518.61,97.64 L519.31,98.63 L520.01,99.53 L520.71,100.35 L521.41,101.09 L522.11,101.73 L522.81,102.27 L523.51,102.72 L524.21,103.06 L524.91,103.30 L525.61,103.44 L526.31,103.47 L527.01,103.40 L527.71,103.23 L528.41,102.96 L529.11,102.60 L529.80,102.14 L530.50,101.59 L531.20,100.94 L531.90,100.21 L532.60,99.40 L533.30,98.51 L534.00,97.54 L534.70,96.50 L535.40,95.40 L536.10,94.24 L536.80,93.03 L537.50,91.76 L538.20,90.46 L538.90,89.12 L539.60,87.76" fill="none" stroke="#ff2a2a" stroke-width="1.3" stroke-dasharray="3.4 2.5" stroke-linejoin="round" />
<path d="M329.70,84.54 L330.40,85.94 L331.10,87.30 L331.80,88.62 L332.50,89.89 L333.20,91.10 L333.90,92.25 L334.60,93.33 L335.30,94.34 L336.00,95.27 L336.70,96.12 L337.40,96.88 L338.10,97.54 L338.80,98.11 L339.50,98.58 L340.19,98.95 L340.89,99.21 L341.59,99.37 L342.29,99.42 L342.99,99.37 L343.69,99.22 L344.39,98.97 L345.09,98.62 L345.79,98.18 L346.49,97.64 L347.19,97.01 L347.89,96.29 L348.59,95.49 L349.29,94.60 L349.99,93.64 L350.69,92.61 L351.39,91.51 L352.09,90.35 L352.79,89.14 L353.49,87.87 L354.19,86.57 L354.89,85.23 L355.59,83.85 L356.29,82.46 L356.99,81.05 L357.69,79.63 L358.39,78.21 L359.09,76.80 L359.79,75.40 L360.49,74.01 L361.19,72.66 L361.88,71.34 L362.58,70.06 L363.28,68.82 L363.98,67.64 L364.68,66.52 L365.38,65.46 L366.08,64.47 L366.78,63.55 L367.48,62.71 L368.18,61.96 L368.88,61.30 L369.58,60.72 L370.28,60.24 L370.98,59.85 L371.68,59.56 L372.38,59.37 L373.08,59.28 L373.78,59.29 L374.48,59.41 L375.18,59.63 L375.88,59.96 L376.58,60.38 L377.28,60.91 L377.98,61.54 L378.68,62.26 L379.38,63.07 L380.08,63.97 L380.78,64.95 L381.48,66.00 L382.18,67.13 L382.87,68.32 L383.57,69.56 L384.27,70.86 L384.97,72.21 L385.67,73.59 L386.37,75.00 L387.07,76.44 L387.77,77.89 L388.47,79.35 L389.17,80.81 L389.87,82.26 L390.57,83.69 L391.27,85.10 L391.97,86.49 L392.67,87.83 L393.37,89.13 L394.07,90.38 L394.77,91.57 L395.47,92.69 L396.17,93.75 L396.87,94.73 L397.57,95.62 L398.27,96.43 L398.97,97.15 L399.67,97.78 L400.37,98.31 L401.07,98.74 L401.77,99.06 L402.47,99.29 L403.16,99.40 L403.86,99.41 L404.56,99.32 L405.26,99.13 L405.96,98.84 L406.66,98.46 L407.36,97.97 L408.06,97.40 L408.76,96.73 L409.46,95.98 L410.16,95.14 L410.86,94.23 L411.56,93.24 L412.26,92.18 L412.96,91.05 L413.66,89.87 L414.36,88.64 L415.06,87.36 L415.76,86.03 L416.46,84.68 L417.16,83.30 L417.86,81.90 L418.56,80.48 L419.26,79.06 L419.96,77.64 L420.66,76.23 L421.36,74.84 L422.06,73.47 L422.76,72.13 L423.46,70.82 L424.15,69.56 L424.85,68.34 L425.55,67.18 L426.25,66.08 L426.95,65.05 L427.65,64.09 L428.35,63.21 L429.05,62.40 L429.75,61.68 L430.45,61.05 L431.15,60.52 L431.85,60.07 L432.55,59.72 L433.25,59.47 L433.95,59.32 L434.65,59.27 L435.35,59.32 L436.05,59.48 L436.75,59.75 L437.45,60.12 L438.15,60.58 L438.85,61.15 L439.55,61.82 L440.25,62.57 L440.95,63.42 L441.65,64.35 L442.35,65.36 L443.05,66.44 L443.75,67.59 L444.45,68.81 L445.14,70.08 L445.84,71.40 L446.54,72.76 L447.24,74.15 L447.94,75.57 L448.64,77.02 L449.34,78.47 L450.04,79.93 L450.74,81.39 L451.44,82.83 L452.14,84.26 L452.84,85.66 L453.54,87.03 L454.24,88.36 L454.94,89.64 L455.64,90.86 L456.34,92.03 L457.04,93.12 L457.74,94.15 L458.44,95.09 L459.14,95.96 L459.84,96.73 L460.54,97.42 L461.24,98.00 L461.94,98.49 L462.64,98.88 L463.34,99.17 L464.04,99.35 L464.74,99.42 L465.44,99.39 L466.13,99.26 L466.83,99.03 L467.53,98.70 L468.23,98.28 L468.93,97.76 L469.63,97.14 L470.33,96.44 L471.03,95.65 L471.73,94.79 L472.43,93.84 L473.13,92.82 L473.83,91.74 L474.53,90.59 L475.23,89.38 L475.93,88.13 L476.63,86.83 L477.33,85.50 L478.03,84.13 L478.73,82.74 L479.43,81.33 L480.13,79.92 L480.83,78.50 L481.53,77.08 L482.23,75.67 L482.93,74.29 L483.63,72.93 L484.33,71.60 L485.03,70.31 L485.73,69.06 L486.43,67.87 L487.12,66.74 L487.82,65.66 L488.52,64.66 L489.22,63.73 L489.92,62.88 L490.62,62.11 L491.32,61.42 L492.02,60.83 L492.72,60.33 L493.42,59.92 L494.12,59.61 L494.82,59.40 L495.52,59.29 L496.22,59.28 L496.92,59.38 L497.62,59.58 L498.32,59.88 L499.02,60.29 L499.72,60.80 L500.42,61.41 L501.12,62.11 L501.82,62.90 L502.52,63.78 L503.22,64.74 L503.92,65.78 L504.62,66.90 L505.32,68.07 L506.02,69.31 L506.72,70.60 L507.42,71.94 L508.12,73.31 L508.81,74.72 L509.51,76.15 L510.21,77.60 L510.91,79.06 L511.61,80.51 L512.31,81.97 L513.01,83.41 L513.71,84.82 L514.41,86.21 L515.11,87.57 L515.81,88.87 L516.51,90.13 L517.21,91.34 L517.91,92.47 L518.61,93.54 L519.31,94.54 L520.01,95.45 L520.71,96.28 L521.41,97.02 L522.11,97.66 L522.81,98.21 L523.51,98.66 L524.21,99.01 L524.91,99.25 L525.61,99.39 L526.31,99.42 L527.01,99.35 L527.71,99.18 L528.41,98.91 L529.11,98.54 L529.80,98.08 L530.50,97.52 L531.20,96.87 L531.90,96.14 L532.60,95.32 L533.30,94.42 L534.00,93.44 L534.70,92.40 L535.40,91.28 L536.10,90.11 L536.80,88.89 L537.50,87.62 L538.20,86.30 L538.90,84.95 L539.60,83.58" fill="none" stroke="#3a7af0" stroke-width="1.35" stroke-dasharray="1.2 1.3" stroke-linejoin="round" />
<line x1="373.10" y1="53.70" x2="434.90" y2="53.70" stroke="#ff7a7a" stroke-width="0.9" stroke-dasharray="0.8 0.5"/>
<path d="M373.10,53.70 L378.10,52.00 L378.10,55.40 Z" fill="#ff1a1a"/>
<path d="M434.90,53.70 L429.90,52.00 L429.90,55.40 Z" fill="#ff1a1a"/>
<line x1="373.10" y1="51.90" x2="373.10" y2="55.50" stroke="#ff7a7a" stroke-width="0.6"/>
<line x1="434.90" y1="51.90" x2="434.90" y2="55.50" stroke="#ff7a7a" stroke-width="0.6"/>
<line x1="403.90" y1="51.90" x2="403.90" y2="55.50" stroke="#ff7a7a" stroke-width="0.7"/>
<text x="384.00" y="40.30" font-size="7.7" fill="#ff3838" stroke="#ff3838" stroke-width="0.22">3.70</text>
<text x="404.20" y="40.10" font-size="7.5" text-anchor="middle" fill="#ff3838" stroke="none">+</text>
<text x="426.40" y="40.30" font-size="7.7" text-anchor="end" fill="#ff3838" stroke="#ff3838" stroke-width="0.22">3.60</text>
<text x="405.60" y="49.00" font-size="7.7" text-anchor="middle" fill="#ff3838" stroke="#ff3838" stroke-width="0.22">7.30s</text>
<line x1="469.00" y1="53.50" x2="532.00" y2="53.50" stroke="#7a7a7a" stroke-width="0.9"/>
<path d="M469.00,53.50 L474.00,51.80 L474.00,55.20 Z" fill="#111"/>
<path d="M532.00,53.50 L527.00,51.80 L527.00,55.20 Z" fill="#111"/>
<line x1="469.00" y1="51.70" x2="469.00" y2="55.30" stroke="#7a7a7a" stroke-width="0.6"/>
<line x1="532.00" y1="51.70" x2="532.00" y2="55.30" stroke="#7a7a7a" stroke-width="0.6"/>
<line x1="500.70" y1="51.70" x2="500.70" y2="55.30" stroke="#7a7a7a" stroke-width="0.7"/>
<text x="481.10" y="40.10" font-size="7.7" fill="#2a2a2a" stroke="#2a2a2a" stroke-width="0.22">3.80</text>
<text x="501.10" y="39.90" font-size="7.5" text-anchor="middle" fill="#2a2a2a" stroke="none">+</text>
<text x="523.10" y="40.10" font-size="7.7" text-anchor="end" fill="#2a2a2a" stroke="#2a2a2a" stroke-width="0.22">3.60</text>
<text x="502.40" y="49.00" font-size="7.7" text-anchor="middle" fill="#2a2a2a" stroke="#2a2a2a" stroke-width="0.22">7.40s</text>
<line x1="372.80" y1="113.10" x2="434.90" y2="113.10" stroke="#8a8aff" stroke-width="0.9"/>
<path d="M372.80,113.10 L377.80,111.40 L377.80,114.80 Z" fill="#1414ff"/>
<path d="M434.90,113.10 L429.90,111.40 L429.90,114.80 Z" fill="#1414ff"/>
<line x1="372.80" y1="111.30" x2="372.80" y2="114.90" stroke="#8a8aff" stroke-width="0.6"/>
<line x1="434.90" y1="111.30" x2="434.90" y2="114.90" stroke="#8a8aff" stroke-width="0.6"/>
<line x1="403.90" y1="111.30" x2="403.90" y2="114.90" stroke="#8a8aff" stroke-width="0.7"/>
<text x="384.00" y="125.00" font-size="7.7" fill="#4040f0" stroke="#4040f0" stroke-width="0.22">3.70</text>
<text x="404.20" y="124.80" font-size="7.5" text-anchor="middle" fill="#4040f0" stroke="none">+</text>
<text x="426.40" y="125.00" font-size="7.7" text-anchor="end" fill="#4040f0" stroke="#4040f0" stroke-width="0.22">3.60</text>
<text x="405.30" y="132.80" font-size="7.7" text-anchor="middle" fill="#4040f0" stroke="#4040f0" stroke-width="0.22">7.30s</text>
<rect x="33.20" y="247.20" width="209.90" height="168.90" fill="none" stroke="#5a5a5a" stroke-width="1.1"/>
<line x1="33.20" y1="416.10" x2="33.20" y2="419.10" stroke="#5a5a5a" stroke-width="1"/>
<text x="33.20" y="428.80" font-size="8.3" text-anchor="middle" fill="#2a2a2a" stroke="#2a2a2a" stroke-width="0.22">0</text>
<line x1="75.18" y1="416.10" x2="75.18" y2="419.10" stroke="#5a5a5a" stroke-width="1"/>
<text x="75.18" y="428.80" font-size="8.3" text-anchor="middle" fill="#2a2a2a" stroke="#2a2a2a" stroke-width="0.22">5</text>
<line x1="117.16" y1="416.10" x2="117.16" y2="419.10" stroke="#5a5a5a" stroke-width="1"/>
<text x="117.16" y="428.80" font-size="8.3" text-anchor="middle" fill="#2a2a2a" stroke="#2a2a2a" stroke-width="0.22">10</text>
<line x1="159.14" y1="416.10" x2="159.14" y2="419.10" stroke="#5a5a5a" stroke-width="1"/>
<text x="159.14" y="428.80" font-size="8.3" text-anchor="middle" fill="#2a2a2a" stroke="#2a2a2a" stroke-width="0.22">15</text>
<line x1="201.12" y1="416.10" x2="201.12" y2="419.10" stroke="#5a5a5a" stroke-width="1"/>
<text x="201.12" y="428.80" font-size="8.3" text-anchor="middle" fill="#2a2a2a" stroke="#2a2a2a" stroke-width="0.22">20</text>
<line x1="243.10" y1="416.10" x2="243.10" y2="419.10" stroke="#5a5a5a" stroke-width="1"/>
<text x="243.10" y="428.80" font-size="8.3" text-anchor="middle" fill="#2a2a2a" stroke="#2a2a2a" stroke-width="0.22">25</text>
<line x1="54.19" y1="416.10" x2="54.19" y2="417.70" stroke="#5a5a5a" stroke-width="1"/>
<line x1="96.17" y1="416.10" x2="96.17" y2="417.70" stroke="#5a5a5a" stroke-width="1"/>
<line x1="138.15" y1="416.10" x2="138.15" y2="417.70" stroke="#5a5a5a" stroke-width="1"/>
<line x1="180.13" y1="416.10" x2="180.13" y2="417.70" stroke="#5a5a5a" stroke-width="1"/>
<line x1="222.11" y1="416.10" x2="222.11" y2="417.70" stroke="#5a5a5a" stroke-width="1"/>
<line x1="30.20" y1="416.10" x2="33.20" y2="416.10" stroke="#5a5a5a" stroke-width="1"/>
<text x="27.60" y="419.00" font-size="8.3" text-anchor="end" fill="#2a2a2a" stroke="#2a2a2a" stroke-width="0.22">2.6</text>
<line x1="30.20" y1="382.32" x2="33.20" y2="382.32" stroke="#5a5a5a" stroke-width="1"/>
<text x="27.60" y="385.22" font-size="8.3" text-anchor="end" fill="#2a2a2a" stroke="#2a2a2a" stroke-width="0.22">2.8</text>
<line x1="30.20" y1="348.54" x2="33.20" y2="348.54" stroke="#5a5a5a" stroke-width="1"/>
<text x="27.60" y="351.44" font-size="8.3" text-anchor="end" fill="#2a2a2a" stroke="#2a2a2a" stroke-width="0.22">3.0</text>
<line x1="30.20" y1="314.76" x2="33.20" y2="314.76" stroke="#5a5a5a" stroke-width="1"/>
<text x="27.60" y="317.66" font-size="8.3" text-anchor="end" fill="#2a2a2a" stroke="#2a2a2a" stroke-width="0.22">3.2</text>
<line x1="30.20" y1="280.98" x2="33.20" y2="280.98" stroke="#5a5a5a" stroke-width="1"/>
<text x="27.60" y="283.88" font-size="8.3" text-anchor="end" fill="#2a2a2a" stroke="#2a2a2a" stroke-width="0.22">3.4</text>
<line x1="30.20" y1="247.20" x2="33.20" y2="247.20" stroke="#5a5a5a" stroke-width="1"/>
<text x="27.60" y="250.10" font-size="8.3" text-anchor="end" fill="#2a2a2a" stroke="#2a2a2a" stroke-width="0.22">3.6</text>
<line x1="31.60" y1="399.21" x2="33.20" y2="399.21" stroke="#5a5a5a" stroke-width="1"/>
<line x1="31.60" y1="365.43" x2="33.20" y2="365.43" stroke="#5a5a5a" stroke-width="1"/>
<line x1="31.60" y1="331.65" x2="33.20" y2="331.65" stroke="#5a5a5a" stroke-width="1"/>
<line x1="31.60" y1="297.87" x2="33.20" y2="297.87" stroke="#5a5a5a" stroke-width="1"/>
<line x1="31.60" y1="264.09" x2="33.20" y2="264.09" stroke="#5a5a5a" stroke-width="1"/>
<text x="138.15" y="444.30" font-size="11" text-anchor="middle" fill="#2a2a2a" stroke="#2a2a2a" stroke-width="0.22">time (s)</text>
<text transform="translate(12.20,331.10) rotate(-90)" font-size="11" text-anchor="middle" fill="#2a2a2a" stroke="#2a2a2a" stroke-width="0.22">surge of structure 10 (m)</text>
<line x1="153.00" y1="388.10" x2="172.80" y2="388.10" stroke="#454545" stroke-width="1.4"/>
<line x1="153.00" y1="399.00" x2="172.80" y2="399.00" stroke="#ff2a2a" stroke-width="1.2" stroke-dasharray="3 2"/>
<line x1="153.00" y1="409.70" x2="172.80" y2="409.70" stroke="#3a7af0" stroke-width="1.2" stroke-dasharray="1.1 1.4"/>
<text x="175.30" y="391.00" font-size="8.8" fill="#2a2a2a" stroke="#2a2a2a" stroke-width="0.22">wave only</text>
<text x="175.30" y="401.90" font-size="8.8" fill="#2a2a2a" stroke="#2a2a2a" stroke-width="0.22">wave current</text>
<text x="175.30" y="412.60" font-size="8.8" fill="#2a2a2a" stroke="#2a2a2a" stroke-width="0.22">wave current wind</text>
<path d="M33.20,345.63 L33.90,344.18 L34.60,342.69 L35.30,341.19 L36.00,339.68 L36.70,338.17 L37.40,336.65 L38.10,335.15 L38.80,333.66 L39.50,332.20 L40.20,330.77 L40.90,329.37 L41.60,328.02 L42.30,326.72 L43.00,325.47 L43.70,324.28 L44.39,323.16 L45.09,322.11 L45.79,321.14 L46.49,320.25 L47.19,319.45 L47.89,318.74 L48.59,318.11 L49.29,317.59 L49.99,317.16 L50.69,316.83 L51.39,316.60 L52.09,316.48 L52.79,316.45 L53.49,316.55 L54.19,316.76 L54.89,317.10 L55.59,317.55 L56.29,318.12 L56.99,318.80 L57.69,319.59 L58.39,320.48 L59.09,321.47 L59.79,322.55 L60.49,323.73 L61.19,324.98 L61.89,326.31 L62.59,327.71 L63.29,329.17 L63.99,330.68 L64.69,332.23 L65.38,333.82 L66.08,335.43 L66.78,337.07 L67.48,338.71 L68.18,340.35 L68.88,341.99 L69.58,343.60 L70.28,345.19 L70.98,346.75 L71.68,348.26 L72.38,349.72 L73.08,351.12 L73.78,352.45 L74.48,353.71 L75.18,354.89 L75.88,355.98 L76.58,356.97 L77.28,357.87 L77.98,358.66 L78.68,359.34 L79.38,359.92 L80.08,360.37 L80.78,360.71 L81.48,360.93 L82.18,361.03 L82.88,361.01 L83.58,360.89 L84.28,360.67 L84.98,360.34 L85.67,359.92 L86.37,359.40 L87.07,358.78 L87.77,358.07 L88.47,357.27 L89.17,356.38 L89.87,355.41 L90.57,354.37 L91.27,353.25 L91.97,352.07 L92.67,350.82 L93.37,349.52 L94.07,348.17 L94.77,346.78 L95.47,345.34 L96.17,343.88 L96.87,342.40 L97.57,340.89 L98.27,339.38 L98.97,337.86 L99.67,336.35 L100.37,334.85 L101.07,333.37 L101.77,331.91 L102.47,330.49 L103.17,329.10 L103.87,327.75 L104.57,326.46 L105.27,325.23 L105.97,324.05 L106.66,322.95 L107.36,321.91 L108.06,320.96 L108.76,320.09 L109.46,319.30 L110.16,318.60 L110.86,318.00 L111.56,317.49 L112.26,317.08 L112.96,316.78 L113.66,316.57 L114.36,316.46 L115.06,316.46 L115.76,316.58 L116.46,316.82 L117.16,317.18 L117.86,317.65 L118.56,318.24 L119.26,318.95 L119.96,319.76 L120.66,320.67 L121.36,321.68 L122.06,322.78 L122.76,323.97 L123.46,325.24 L124.16,326.59 L124.86,328.00 L125.56,329.47 L126.26,330.98 L126.96,332.55 L127.65,334.14 L128.35,335.76 L129.05,337.40 L129.75,339.04 L130.45,340.68 L131.15,342.31 L131.85,343.92 L132.55,345.51 L133.25,347.05 L133.95,348.56 L134.65,350.00 L135.35,351.39 L136.05,352.71 L136.75,353.95 L137.45,355.11 L138.15,356.18 L138.85,357.16 L139.55,358.04 L140.25,358.81 L140.95,359.47 L141.65,360.02 L142.35,360.45 L143.05,360.77 L143.75,360.96 L144.45,361.04 L145.15,361.00 L145.85,360.86 L146.55,360.61 L147.25,360.27 L147.95,359.82 L148.64,359.28 L149.34,358.64 L150.04,357.91 L150.74,357.10 L151.44,356.19 L152.14,355.21 L152.84,354.15 L153.54,353.02 L154.24,351.82 L154.94,350.57 L155.64,349.26 L156.34,347.89 L157.04,346.49 L157.74,345.05 L158.44,343.59 L159.14,342.10 L159.84,340.59 L160.54,339.08 L161.24,337.56 L161.94,336.05 L162.64,334.55 L163.34,333.08 L164.04,331.62 L164.74,330.20 L165.44,328.83 L166.14,327.49 L166.84,326.21 L167.54,324.99 L168.24,323.83 L168.94,322.73 L169.63,321.72 L170.33,320.78 L171.03,319.92 L171.73,319.15 L172.43,318.48 L173.13,317.89 L173.83,317.40 L174.53,317.01 L175.23,316.73 L175.93,316.54 L176.63,316.45 L177.33,316.48 L178.03,316.62 L178.73,316.88 L179.43,317.26 L180.13,317.76 L180.83,318.38 L181.53,319.10 L182.23,319.93 L182.93,320.86 L183.63,321.89 L184.33,323.01 L185.03,324.22 L185.73,325.51 L186.43,326.86 L187.13,328.29 L187.83,329.77 L188.53,331.29 L189.23,332.86 L189.93,334.46 L190.62,336.09 L191.32,337.72 L192.02,339.37 L192.72,341.01 L193.42,342.64 L194.12,344.24 L194.82,345.82 L195.52,347.36 L196.22,348.85 L196.92,350.29 L197.62,351.66 L198.32,352.97 L199.02,354.19 L199.72,355.33 L200.42,356.39 L201.12,357.34 L201.82,358.20 L202.52,358.95 L203.22,359.59 L203.92,360.11 L204.62,360.52 L205.32,360.82 L206.02,360.99 L206.72,361.04 L207.42,360.98 L208.12,360.82 L208.82,360.55 L209.52,360.19 L210.22,359.72 L210.92,359.16 L211.61,358.50 L212.31,357.76 L213.01,356.92 L213.71,356.00 L214.41,355.00 L215.11,353.93 L215.81,352.79 L216.51,351.58 L217.21,350.31 L217.91,348.99 L218.61,347.62 L219.31,346.21 L220.01,344.76 L220.71,343.29 L221.41,341.80 L222.11,340.29 L222.81,338.77 L223.51,337.26 L224.21,335.75 L224.91,334.26 L225.61,332.78 L226.31,331.34 L227.01,329.93 L227.71,328.55 L228.41,327.23 L229.11,325.96 L229.81,324.75 L230.51,323.60 L231.21,322.52 L231.91,321.52 L232.60,320.60 L233.30,319.76 L234.00,319.01 L234.70,318.35 L235.40,317.79 L236.10,317.32 L236.80,316.95 L237.50,316.68 L238.20,316.51 L238.90,316.45 L239.60,316.50 L240.30,316.66 L241.00,316.95 L241.70,317.36 L242.40,317.88 L243.10,318.51" fill="none" stroke="#454545" stroke-width="1.35" stroke-linejoin="round" />
<path d="M33.20,334.60 L33.90,336.16 L34.60,337.71 L35.30,339.26 L36.00,340.78 L36.70,342.28 L37.40,343.74 L38.10,345.16 L38.80,346.53 L39.50,347.84 L40.20,349.08 L40.90,350.25 L41.60,351.35 L42.30,352.36 L43.00,353.28 L43.70,354.11 L44.39,354.84 L45.09,355.47 L45.79,355.99 L46.49,356.41 L47.19,356.71 L47.89,356.90 L48.59,356.98 L49.29,356.95 L49.99,356.81 L50.69,356.57 L51.39,356.21 L52.09,355.76 L52.79,355.20 L53.49,354.55 L54.19,353.80 L54.89,352.96 L55.59,352.03 L56.29,351.02 L56.99,349.93 L57.69,348.77 L58.39,347.55 L59.09,346.26 L59.79,344.92 L60.49,343.53 L61.19,342.11 L61.89,340.65 L62.59,339.16 L63.29,337.66 L63.99,336.14 L64.69,334.62 L65.38,333.11 L66.08,331.61 L66.78,330.13 L67.48,328.68 L68.18,327.26 L68.88,325.88 L69.58,324.55 L70.28,323.27 L70.98,322.06 L71.68,320.91 L72.38,319.84 L73.08,318.85 L73.78,317.93 L74.48,317.11 L75.18,316.38 L75.88,315.75 L76.58,315.21 L77.28,314.78 L77.98,314.45 L78.68,314.22 L79.38,314.10 L80.08,314.09 L80.78,314.20 L81.48,314.41 L82.18,314.74 L82.88,315.17 L83.58,315.72 L84.28,316.37 L84.98,317.12 L85.67,317.96 L86.37,318.90 L87.07,319.93 L87.77,321.04 L88.47,322.23 L89.17,323.49 L89.87,324.81 L90.57,326.19 L91.27,327.62 L91.97,329.08 L92.67,330.59 L93.37,332.12 L94.07,333.67 L94.77,335.22 L95.47,336.78 L96.17,338.33 L96.87,339.87 L97.57,341.39 L98.27,342.87 L98.97,344.32 L99.67,345.72 L100.37,347.06 L101.07,348.34 L101.77,349.56 L102.47,350.70 L103.17,351.76 L103.87,352.74 L104.57,353.63 L105.27,354.42 L105.97,355.11 L106.66,355.69 L107.36,356.17 L108.06,356.54 L108.76,356.80 L109.46,356.95 L110.16,356.98 L110.86,356.91 L111.56,356.73 L112.26,356.44 L112.96,356.04 L113.66,355.55 L114.36,354.95 L115.06,354.26 L115.76,353.47 L116.46,352.60 L117.16,351.64 L117.86,350.59 L118.56,349.48 L119.26,348.29 L119.96,347.04 L120.66,345.73 L121.36,344.37 L122.06,342.97 L122.76,341.52 L123.46,340.05 L124.16,338.56 L124.86,337.05 L125.56,335.53 L126.26,334.02 L126.96,332.51 L127.65,331.02 L128.35,329.54 L129.05,328.10 L129.75,326.70 L130.45,325.34 L131.15,324.03 L131.85,322.78 L132.55,321.59 L133.25,320.47 L133.95,319.43 L134.65,318.47 L135.35,317.59 L136.05,316.81 L136.75,316.12 L137.45,315.52 L138.15,315.02 L138.85,314.63 L139.55,314.34 L140.25,314.16 L140.95,314.09 L141.65,314.12 L142.35,314.27 L143.05,314.53 L143.75,314.90 L144.45,315.38 L145.15,315.96 L145.85,316.65 L146.55,317.44 L147.25,318.33 L147.95,319.31 L148.64,320.37 L149.34,321.51 L150.04,322.73 L150.74,324.01 L151.44,325.35 L152.14,326.75 L152.84,328.20 L153.54,329.68 L154.24,331.20 L154.94,332.73 L155.64,334.29 L156.34,335.85 L157.04,337.40 L157.74,338.95 L158.44,340.48 L159.14,341.98 L159.84,343.45 L160.54,344.88 L161.24,346.26 L161.94,347.58 L162.64,348.84 L163.34,350.03 L164.04,351.14 L164.74,352.17 L165.44,353.11 L166.14,353.95 L166.84,354.70 L167.54,355.35 L168.24,355.90 L168.94,356.33 L169.63,356.66 L170.33,356.87 L171.03,356.98 L171.73,356.97 L172.43,356.85 L173.13,356.62 L173.83,356.29 L174.53,355.86 L175.23,355.32 L175.93,354.69 L176.63,353.96 L177.33,353.13 L178.03,352.22 L178.73,351.23 L179.43,350.16 L180.13,349.01 L180.83,347.80 L181.53,346.52 L182.23,345.19 L182.93,343.81 L183.63,342.39 L184.33,340.94 L185.03,339.46 L185.73,337.96 L186.43,336.45 L187.13,334.93 L187.83,333.41 L188.53,331.91 L189.23,330.42 L189.93,328.96 L190.62,327.54 L191.32,326.15 L192.02,324.81 L192.72,323.52 L193.42,322.30 L194.12,321.14 L194.82,320.05 L195.52,319.04 L196.22,318.11 L196.92,317.27 L197.62,316.52 L198.32,315.87 L199.02,315.31 L199.72,314.86 L200.42,314.50 L201.12,314.26 L201.82,314.12 L202.52,314.09 L203.22,314.17 L203.92,314.36 L204.62,314.66 L205.32,315.08 L206.02,315.60 L206.72,316.23 L207.42,316.96 L208.12,317.79 L208.82,318.71 L209.52,319.72 L210.22,320.81 L210.92,321.99 L211.61,323.23 L212.31,324.54 L213.01,325.91 L213.71,327.33 L214.41,328.79 L215.11,330.28 L215.81,331.81 L216.51,333.35 L217.21,334.91 L217.91,336.47 L218.61,338.02 L219.31,339.57 L220.01,341.09 L220.71,342.58 L221.41,344.03 L222.11,345.44 L222.81,346.80 L223.51,348.09 L224.21,349.32 L224.91,350.48 L225.61,351.56 L226.31,352.55 L227.01,353.46 L227.71,354.27 L228.41,354.98 L229.11,355.58 L229.81,356.08 L230.51,356.48 L231.21,356.76 L231.91,356.93 L232.60,356.99 L233.30,356.93 L234.00,356.77 L234.70,356.50 L235.40,356.13 L236.10,355.66 L236.80,355.08 L237.50,354.41 L238.20,353.64 L238.90,352.78 L239.60,351.84 L240.30,350.81 L241.00,349.71 L241.70,348.53 L242.40,347.29 L243.10,346.00" fill="none" stroke="#ff2a2a" stroke-width="1.3" stroke-dasharray="3.4 2.5" stroke-linejoin="round" />
<path d="M33.20,330.61 L33.90,332.20 L34.60,333.79 L35.30,335.36 L36.00,336.92 L36.70,338.45 L37.40,339.94 L38.10,341.38 L38.80,342.78 L39.50,344.11 L40.20,345.38 L40.90,346.58 L41.60,347.69 L42.30,348.72 L43.00,349.66 L43.70,350.51 L44.39,351.25 L45.09,351.89 L45.79,352.43 L46.49,352.85 L47.19,353.16 L47.89,353.35 L48.59,353.44 L49.29,353.40 L49.99,353.26 L50.69,353.01 L51.39,352.65 L52.09,352.19 L52.79,351.62 L53.49,350.95 L54.19,350.19 L54.89,349.33 L55.59,348.39 L56.29,347.36 L56.99,346.25 L57.69,345.06 L58.39,343.81 L59.09,342.50 L59.79,341.14 L60.49,339.72 L61.19,338.27 L61.89,336.78 L62.59,335.26 L63.29,333.73 L63.99,332.18 L64.69,330.64 L65.38,329.09 L66.08,327.56 L66.78,326.05 L67.48,324.57 L68.18,323.12 L68.88,321.72 L69.58,320.36 L70.28,319.06 L70.98,317.82 L71.68,316.66 L72.38,315.56 L73.08,314.55 L73.78,313.62 L74.48,312.78 L75.18,312.03 L75.88,311.39 L76.58,310.84 L77.28,310.40 L77.98,310.06 L78.68,309.83 L79.38,309.71 L80.08,309.70 L80.78,309.81 L81.48,310.03 L82.18,310.36 L82.88,310.80 L83.58,311.36 L84.28,312.02 L84.98,312.78 L85.67,313.65 L86.37,314.61 L87.07,315.66 L87.77,316.79 L88.47,318.00 L89.17,319.28 L89.87,320.63 L90.57,322.03 L91.27,323.49 L91.97,324.99 L92.67,326.52 L93.37,328.08 L94.07,329.66 L94.77,331.25 L95.47,332.84 L96.17,334.42 L96.87,335.99 L97.57,337.53 L98.27,339.05 L98.97,340.52 L99.67,341.95 L100.37,343.32 L101.07,344.63 L101.77,345.87 L102.47,347.03 L103.17,348.11 L103.87,349.11 L104.57,350.01 L105.27,350.82 L105.97,351.52 L106.66,352.12 L107.36,352.61 L108.06,352.99 L108.76,353.25 L109.46,353.40 L110.16,353.44 L110.86,353.36 L111.56,353.17 L112.26,352.88 L112.96,352.48 L113.66,351.97 L114.36,351.37 L115.06,350.66 L115.76,349.86 L116.46,348.97 L117.16,347.98 L117.86,346.92 L118.56,345.78 L119.26,344.57 L119.96,343.30 L120.66,341.96 L121.36,340.57 L122.06,339.14 L122.76,337.67 L123.46,336.17 L124.16,334.65 L124.86,333.11 L125.56,331.57 L126.26,330.02 L126.96,328.48 L127.65,326.96 L128.35,325.46 L129.05,323.99 L129.75,322.56 L130.45,321.17 L131.15,319.84 L131.85,318.56 L132.55,317.35 L133.25,316.21 L133.95,315.15 L134.65,314.17 L135.35,313.27 L136.05,312.47 L136.75,311.76 L137.45,311.16 L138.15,310.65 L138.85,310.25 L139.55,309.96 L140.25,309.77 L140.95,309.70 L141.65,309.73 L142.35,309.88 L143.05,310.14 L143.75,310.52 L144.45,311.01 L145.15,311.61 L145.85,312.31 L146.55,313.12 L147.25,314.02 L147.95,315.02 L148.64,316.10 L149.34,317.26 L150.04,318.50 L150.74,319.81 L151.44,321.18 L152.14,322.61 L152.84,324.08 L153.54,325.60 L154.24,327.14 L154.94,328.71 L155.64,330.29 L156.34,331.88 L157.04,333.47 L157.74,335.05 L158.44,336.61 L159.14,338.14 L159.84,339.64 L160.54,341.10 L161.24,342.50 L161.94,343.85 L162.64,345.13 L163.34,346.34 L164.04,347.48 L164.74,348.52 L165.44,349.48 L166.14,350.35 L166.84,351.11 L167.54,351.77 L168.24,352.33 L168.94,352.77 L169.63,353.11 L170.33,353.32 L171.03,353.43 L171.73,353.42 L172.43,353.30 L173.13,353.07 L173.83,352.73 L174.53,352.29 L175.23,351.74 L175.93,351.10 L176.63,350.35 L177.33,349.51 L178.03,348.58 L178.73,347.57 L179.43,346.48 L180.13,345.31 L180.83,344.07 L181.53,342.77 L182.23,341.41 L182.93,340.01 L183.63,338.56 L184.33,337.08 L185.03,335.57 L185.73,334.04 L186.43,332.49 L187.13,330.95 L187.83,329.40 L188.53,327.87 L189.23,326.35 L189.93,324.87 L190.62,323.41 L191.32,322.00 L192.02,320.63 L192.72,319.32 L193.42,318.07 L194.12,316.88 L194.82,315.77 L195.52,314.74 L196.22,313.80 L196.92,312.94 L197.62,312.18 L198.32,311.51 L199.02,310.94 L199.72,310.48 L200.42,310.12 L201.12,309.87 L201.82,309.73 L202.52,309.70 L203.22,309.78 L203.92,309.97 L204.62,310.28 L205.32,310.71 L206.02,311.24 L206.72,311.88 L207.42,312.62 L208.12,313.47 L208.82,314.41 L209.52,315.44 L210.22,316.56 L210.92,317.75 L211.61,319.02 L212.31,320.35 L213.01,321.75 L213.71,323.20 L214.41,324.69 L215.11,326.21 L215.81,327.77 L216.51,329.34 L217.21,330.93 L217.91,332.52 L218.61,334.10 L219.31,335.68 L220.01,337.23 L220.71,338.75 L221.41,340.23 L222.11,341.67 L222.81,343.05 L223.51,344.37 L224.21,345.62 L224.91,346.81 L225.61,347.90 L226.31,348.92 L227.01,349.84 L227.71,350.66 L228.41,351.39 L229.11,352.01 L229.81,352.52 L230.51,352.92 L231.21,353.21 L231.91,353.38 L232.60,353.44 L233.30,353.38 L234.00,353.22 L234.70,352.95 L235.40,352.57 L236.10,352.08 L236.80,351.50 L237.50,350.81 L238.20,350.03 L238.90,349.15 L239.60,348.19 L240.30,347.14 L241.00,346.02 L241.70,344.82 L242.40,343.56 L243.10,342.23" fill="none" stroke="#3a7af0" stroke-width="1.35" stroke-dasharray="1.2 1.3" stroke-linejoin="round" />
<line x1="79.40" y1="305.10" x2="142.20" y2="305.10" stroke="#ff7a7a" stroke-width="0.9" stroke-dasharray="0.8 0.5"/>
<path d="M79.40,305.10 L84.40,303.40 L84.40,306.80 Z" fill="#ff1a1a"/>
<path d="M142.20,305.10 L137.20,303.40 L137.20,306.80 Z" fill="#ff1a1a"/>
<line x1="79.40" y1="303.30" x2="79.40" y2="306.90" stroke="#ff7a7a" stroke-width="0.6"/>
<line x1="142.20" y1="303.30" x2="142.20" y2="306.90" stroke="#ff7a7a" stroke-width="0.6"/>
<line x1="110.30" y1="303.30" x2="110.30" y2="306.90" stroke="#ff7a7a" stroke-width="0.7"/>
<text x="87.80" y="289.50" font-size="7.7" fill="#ff3838" stroke="#ff3838" stroke-width="0.22">3.50</text>
<text x="107.80" y="289.30" font-size="7.5" text-anchor="middle" fill="#ff3838" stroke="none">+</text>
<text x="129.80" y="289.50" font-size="7.7" text-anchor="end" fill="#ff3838" stroke="#ff3838" stroke-width="0.22">3.80</text>
<text x="108.90" y="298.60" font-size="7.7" text-anchor="middle" fill="#ff3838" stroke="#ff3838" stroke-width="0.22">7.30s</text>
<line x1="176.50" y1="304.90" x2="238.40" y2="304.90" stroke="#7a7a7a" stroke-width="0.9"/>
<path d="M176.50,304.90 L181.50,303.20 L181.50,306.60 Z" fill="#111"/>
<path d="M238.40,304.90 L233.40,303.20 L233.40,306.60 Z" fill="#111"/>
<line x1="176.50" y1="303.10" x2="176.50" y2="306.70" stroke="#7a7a7a" stroke-width="0.6"/>
<line x1="238.40" y1="303.10" x2="238.40" y2="306.70" stroke="#7a7a7a" stroke-width="0.6"/>
<line x1="206.40" y1="303.10" x2="206.40" y2="306.70" stroke="#7a7a7a" stroke-width="0.7"/>
<text x="184.50" y="289.50" font-size="7.7" fill="#2a2a2a" stroke="#2a2a2a" stroke-width="0.22">3.70</text>
<text x="204.50" y="289.30" font-size="7.5" text-anchor="middle" fill="#2a2a2a" stroke="none">+</text>
<text x="226.50" y="289.50" font-size="7.7" text-anchor="end" fill="#2a2a2a" stroke="#2a2a2a" stroke-width="0.22">3.70</text>
<text x="205.80" y="298.40" font-size="7.7" text-anchor="middle" fill="#2a2a2a" stroke="#2a2a2a" stroke-width="0.22">7.40s</text>
<line x1="79.80" y1="365.90" x2="141.60" y2="365.90" stroke="#8a8aff" stroke-width="0.9"/>
<path d="M79.80,365.90 L84.80,364.20 L84.80,367.60 Z" fill="#1414ff"/>
<path d="M141.60,365.90 L136.60,364.20 L136.60,367.60 Z" fill="#1414ff"/>
<line x1="79.80" y1="364.10" x2="79.80" y2="367.70" stroke="#8a8aff" stroke-width="0.6"/>
<line x1="141.60" y1="364.10" x2="141.60" y2="367.70" stroke="#8a8aff" stroke-width="0.6"/>
<line x1="110.30" y1="364.10" x2="110.30" y2="367.70" stroke="#8a8aff" stroke-width="0.7"/>
<text x="90.30" y="380.00" font-size="7.7" fill="#4040f0" stroke="#4040f0" stroke-width="0.22">3.50</text>
<text x="110.30" y="379.80" font-size="7.5" text-anchor="middle" fill="#4040f0" stroke="none">+</text>
<text x="132.30" y="380.00" font-size="7.7" text-anchor="end" fill="#4040f0" stroke="#4040f0" stroke-width="0.22">3.80</text>
<text x="112.10" y="390.20" font-size="7.7" text-anchor="middle" fill="#4040f0" stroke="#4040f0" stroke-width="0.22">7.30s</text>
<rect x="332.60" y="247.40" width="209.60" height="168.90" fill="none" stroke="#5a5a5a" stroke-width="1.1"/>
<line x1="332.60" y1="416.30" x2="332.60" y2="419.30" stroke="#5a5a5a" stroke-width="1"/>
<text x="332.60" y="428.80" font-size="8.3" text-anchor="middle" fill="#2a2a2a" stroke="#2a2a2a" stroke-width="0.22">0</text>
<line x1="374.52" y1="416.30" x2="374.52" y2="419.30" stroke="#5a5a5a" stroke-width="1"/>
<text x="374.52" y="428.80" font-size="8.3" text-anchor="middle" fill="#2a2a2a" stroke="#2a2a2a" stroke-width="0.22">5</text>
<line x1="416.44" y1="416.30" x2="416.44" y2="419.30" stroke="#5a5a5a" stroke-width="1"/>
<text x="416.44" y="428.80" font-size="8.3" text-anchor="middle" fill="#2a2a2a" stroke="#2a2a2a" stroke-width="0.22">10</text>
<line x1="458.36" y1="416.30" x2="458.36" y2="419.30" stroke="#5a5a5a" stroke-width="1"/>
<text x="458.36" y="428.80" font-size="8.3" text-anchor="middle" fill="#2a2a2a" stroke="#2a2a2a" stroke-width="0.22">15</text>
<line x1="500.28" y1="416.30" x2="500.28" y2="419.30" stroke="#5a5a5a" stroke-width="1"/>
<text x="500.28" y="428.80" font-size="8.3" text-anchor="middle" fill="#2a2a2a" stroke="#2a2a2a" stroke-width="0.22">20</text>
<line x1="542.20" y1="416.30" x2="542.20" y2="419.30" stroke="#5a5a5a" stroke-width="1"/>
<text x="542.20" y="428.80" font-size="8.3" text-anchor="middle" fill="#2a2a2a" stroke="#2a2a2a" stroke-width="0.22">25</text>
<line x1="353.56" y1="416.30" x2="353.56" y2="417.90" stroke="#5a5a5a" stroke-width="1"/>
<line x1="395.48" y1="416.30" x2="395.48" y2="417.90" stroke="#5a5a5a" stroke-width="1"/>
<line x1="437.40" y1="416.30" x2="437.40" y2="417.90" stroke="#5a5a5a" stroke-width="1"/>
<line x1="479.32" y1="416.30" x2="479.32" y2="417.90" stroke="#5a5a5a" stroke-width="1"/>
<line x1="521.24" y1="416.30" x2="521.24" y2="417.90" stroke="#5a5a5a" stroke-width="1"/>
<line x1="329.60" y1="416.30" x2="332.60" y2="416.30" stroke="#5a5a5a" stroke-width="1"/>
<text x="327.00" y="419.20" font-size="8.3" text-anchor="end" fill="#2a2a2a" stroke="#2a2a2a" stroke-width="0.22">−3.0</text>
<line x1="329.60" y1="374.07" x2="332.60" y2="374.07" stroke="#5a5a5a" stroke-width="1"/>
<text x="327.00" y="376.97" font-size="8.3" text-anchor="end" fill="#2a2a2a" stroke="#2a2a2a" stroke-width="0.22">−1.5</text>
<line x1="329.60" y1="331.85" x2="332.60" y2="331.85" stroke="#5a5a5a" stroke-width="1"/>
<text x="327.00" y="334.75" font-size="8.3" text-anchor="end" fill="#2a2a2a" stroke="#2a2a2a" stroke-width="0.22">0.0</text>
<line x1="329.60" y1="289.62" x2="332.60" y2="289.62" stroke="#5a5a5a" stroke-width="1"/>
<text x="327.00" y="292.52" font-size="8.3" text-anchor="end" fill="#2a2a2a" stroke="#2a2a2a" stroke-width="0.22">1.5</text>
<line x1="329.60" y1="247.40" x2="332.60" y2="247.40" stroke="#5a5a5a" stroke-width="1"/>
<text x="327.00" y="250.30" font-size="8.3" text-anchor="end" fill="#2a2a2a" stroke="#2a2a2a" stroke-width="0.22">3.0</text>
<line x1="331.00" y1="395.19" x2="332.60" y2="395.19" stroke="#5a5a5a" stroke-width="1"/>
<line x1="331.00" y1="352.96" x2="332.60" y2="352.96" stroke="#5a5a5a" stroke-width="1"/>
<line x1="331.00" y1="310.74" x2="332.60" y2="310.74" stroke="#5a5a5a" stroke-width="1"/>
<line x1="331.00" y1="268.51" x2="332.60" y2="268.51" stroke="#5a5a5a" stroke-width="1"/>
<text x="437.40" y="444.30" font-size="11" text-anchor="middle" fill="#2a2a2a" stroke="#2a2a2a" stroke-width="0.22">time (s)</text>
<text transform="translate(307.00,331.40) rotate(-90)" font-size="11" text-anchor="middle" fill="#2a2a2a" stroke="#2a2a2a" stroke-width="0.22">heave of structure 1 (m)</text>
<line x1="453.00" y1="388.50" x2="472.80" y2="388.50" stroke="#454545" stroke-width="1.4"/>
<line x1="453.00" y1="399.60" x2="472.80" y2="399.60" stroke="#ff2a2a" stroke-width="1.2" stroke-dasharray="1.6 2.2"/>
<line x1="453.00" y1="410.50" x2="472.80" y2="410.50" stroke="#3a7af0" stroke-width="1.2" stroke-dasharray="1.1 1.4"/>
<text x="474.90" y="391.40" font-size="8.8" fill="#2a2a2a" stroke="#2a2a2a" stroke-width="0.22">wave only</text>
<text x="474.90" y="402.50" font-size="8.8" fill="#2a2a2a" stroke="#2a2a2a" stroke-width="0.22">wave current</text>
<text x="474.90" y="413.40" font-size="8.8" fill="#2a2a2a" stroke="#2a2a2a" stroke-width="0.22">wave current wind</text>
<path d="M332.60,303.09 L333.30,302.86 L334.00,302.95 L334.70,303.35 L335.39,304.04 L336.09,305.02 L336.79,306.25 L337.49,307.71 L338.19,309.37 L338.89,311.20 L339.59,313.16 L340.29,315.22 L340.98,317.34 L341.68,319.49 L342.38,321.65 L343.08,323.79 L343.78,325.89 L344.48,327.93 L345.18,329.92 L345.87,331.85 L346.57,333.72 L347.27,335.53 L347.97,337.29 L348.67,339.02 L349.37,340.72 L350.07,342.41 L350.77,344.10 L351.46,345.79 L352.16,347.50 L352.86,349.22 L353.56,350.96 L354.26,352.71 L354.96,354.46 L355.66,356.20 L356.35,357.91 L357.05,359.57 L357.75,361.15 L358.45,362.64 L359.15,364.01 L359.85,365.23 L360.55,366.30 L361.25,367.19 L361.94,367.90 L362.64,368.42 L363.34,368.77 L364.04,368.95 L364.74,369.01 L365.44,368.99 L366.14,368.85 L366.83,368.55 L367.53,368.07 L368.23,367.40 L368.93,366.53 L369.63,365.47 L370.33,364.25 L371.03,362.87 L371.73,361.35 L372.42,359.74 L373.12,358.04 L373.82,356.29 L374.52,354.50 L375.22,352.70 L375.92,350.90 L376.62,349.12 L377.31,347.35 L378.01,345.59 L378.71,343.86 L379.41,342.12 L380.11,340.39 L380.81,338.64 L381.51,336.85 L382.21,335.03 L382.90,333.15 L383.60,331.21 L384.30,329.21 L385.00,327.14 L385.70,325.02 L386.40,322.84 L387.10,320.63 L387.79,318.42 L388.49,316.22 L389.19,314.07 L389.89,312.01 L390.59,310.07 L391.29,308.30 L391.99,306.72 L392.69,305.37 L393.38,304.29 L394.08,303.50 L394.78,303.02 L395.48,302.86 L396.18,303.01 L396.88,303.47 L397.58,304.22 L398.27,305.24 L398.97,306.52 L399.67,308.03 L400.37,309.73 L401.07,311.59 L401.77,313.57 L402.47,315.64 L403.17,317.77 L403.86,319.92 L404.56,322.08 L405.26,324.21 L405.96,326.30 L406.66,328.34 L407.36,330.32 L408.06,332.23 L408.75,334.09 L409.45,335.89 L410.15,337.64 L410.85,339.36 L411.55,341.06 L412.25,342.75 L412.95,344.43 L413.65,346.13 L414.34,347.84 L415.04,349.57 L415.74,351.31 L416.44,353.06 L417.14,354.81 L417.84,356.55 L418.54,358.25 L419.23,359.89 L419.93,361.46 L420.63,362.92 L421.33,364.26 L422.03,365.46 L422.73,366.49 L423.43,367.35 L424.13,368.02 L424.82,368.50 L425.52,368.82 L426.22,368.97 L426.92,369.01 L427.62,368.97 L428.32,368.80 L429.02,368.47 L429.71,367.95 L430.41,367.24 L431.11,366.33 L431.81,365.24 L432.51,363.98 L433.21,362.57 L433.91,361.04 L434.61,359.40 L435.30,357.69 L436.00,355.93 L436.70,354.14 L437.40,352.34 L438.10,350.55 L438.80,348.76 L439.50,347.00 L440.19,345.25 L440.89,343.51 L441.59,341.78 L442.29,340.04 L442.99,338.28 L443.69,336.49 L444.39,334.66 L445.09,332.77 L445.78,330.82 L446.48,328.80 L447.18,326.72 L447.88,324.58 L448.58,322.40 L449.28,320.19 L449.98,317.98 L450.67,315.78 L451.37,313.65 L452.07,311.61 L452.77,309.70 L453.47,307.96 L454.17,306.43 L454.87,305.13 L455.57,304.11 L456.26,303.38 L456.96,302.96 L457.66,302.86 L458.36,303.08 L459.06,303.59 L459.76,304.40 L460.46,305.48 L461.15,306.81 L461.85,308.35 L462.55,310.09 L463.25,311.97 L463.95,313.98 L464.65,316.06 L465.35,318.20 L466.05,320.36 L466.74,322.51 L467.44,324.63 L468.14,326.71 L468.84,328.74 L469.54,330.70 L470.24,332.61 L470.94,334.45 L471.63,336.24 L472.33,337.99 L473.03,339.70 L473.73,341.40 L474.43,343.08 L475.13,344.77 L475.83,346.47 L476.53,348.18 L477.22,349.92 L477.92,351.66 L478.62,353.41 L479.32,355.16 L480.02,356.89 L480.72,358.58 L481.42,360.21 L482.11,361.76 L482.81,363.20 L483.51,364.52 L484.21,365.68 L484.91,366.68 L485.61,367.49 L486.31,368.13 L487.01,368.58 L487.70,368.86 L488.40,368.99 L489.10,369.01 L489.80,368.95 L490.50,368.75 L491.20,368.38 L491.90,367.82 L492.59,367.07 L493.29,366.13 L493.99,365.00 L494.69,363.71 L495.39,362.28 L496.09,360.72 L496.79,359.07 L497.49,357.34 L498.18,355.58 L498.88,353.78 L499.58,351.98 L500.28,350.19 L500.98,348.41 L501.68,346.64 L502.38,344.90 L503.07,343.16 L503.77,341.43 L504.47,339.69 L505.17,337.93 L505.87,336.13 L506.57,334.29 L507.27,332.39 L507.97,330.42 L508.66,328.39 L509.36,326.30 L510.06,324.15 L510.76,321.96 L511.46,319.75 L512.16,317.53 L512.86,315.35 L513.55,313.24 L514.25,311.22 L514.95,309.34 L515.65,307.64 L516.35,306.15 L517.05,304.91 L517.75,303.94 L518.45,303.27 L519.14,302.91 L519.84,302.88 L520.54,303.16 L521.24,303.73 L521.94,304.60 L522.64,305.73 L523.34,307.10 L524.03,308.69 L524.73,310.45 L525.43,312.37 L526.13,314.39 L526.83,316.49 L527.53,318.63 L528.23,320.79 L528.93,322.93 L529.62,325.05 L530.32,327.12 L531.02,329.14 L531.72,331.09 L532.42,332.98 L533.12,334.81 L533.82,336.59 L534.51,338.33 L535.21,340.04 L535.91,341.74 L536.61,343.42 L537.31,345.11 L538.01,346.81 L538.71,348.53 L539.41,350.26 L540.10,352.01 L540.80,353.76 L541.50,355.51 L542.20,357.23" fill="none" stroke="#454545" stroke-width="1.35" stroke-linejoin="round" />
<path d="M332.60,368.94 L333.30,368.74 L334.00,368.35 L334.70,367.76 L335.39,366.97 L336.09,365.98 L336.79,364.81 L337.49,363.46 L338.19,361.97 L338.89,360.36 L339.59,358.67 L340.29,356.91 L340.98,355.12 L341.68,353.31 L342.38,351.52 L343.08,349.74 L343.78,347.99 L344.48,346.27 L345.18,344.58 L345.87,342.91 L346.57,341.25 L347.27,339.59 L347.97,337.90 L348.67,336.18 L349.37,334.41 L350.07,332.57 L350.77,330.65 L351.46,328.66 L352.16,326.59 L352.86,324.45 L353.56,322.25 L354.26,320.01 L354.96,317.76 L355.66,315.53 L356.35,313.36 L357.05,311.28 L357.75,309.33 L358.45,307.57 L359.15,306.02 L359.85,304.72 L360.55,303.71 L361.25,303.01 L361.94,302.64 L362.64,302.60 L363.34,302.91 L364.04,303.54 L364.74,304.49 L365.44,305.74 L366.14,307.24 L366.83,308.96 L367.53,310.88 L368.23,312.93 L368.93,315.09 L369.63,317.31 L370.33,319.56 L371.03,321.80 L371.73,324.01 L372.42,326.17 L373.12,328.25 L373.82,330.26 L374.52,332.19 L375.22,334.04 L375.92,335.83 L376.62,337.56 L377.31,339.26 L378.01,340.92 L378.71,342.58 L379.41,344.25 L380.11,345.93 L380.81,347.64 L381.51,349.39 L382.21,351.16 L382.90,352.95 L383.60,354.76 L384.30,356.55 L385.00,358.32 L385.70,360.03 L386.40,361.66 L387.10,363.17 L387.79,364.55 L388.49,365.76 L389.19,366.79 L389.89,367.62 L390.59,368.25 L391.29,368.67 L391.99,368.92 L392.69,369.00 L393.38,369.00 L394.08,368.88 L394.78,368.60 L395.48,368.14 L396.18,367.47 L396.88,366.60 L397.58,365.53 L398.27,364.29 L398.97,362.88 L399.67,361.34 L400.37,359.69 L401.07,357.97 L401.77,356.20 L402.47,354.40 L403.17,352.59 L403.86,350.80 L404.56,349.04 L405.26,347.30 L405.96,345.59 L406.66,343.91 L407.36,342.25 L408.06,340.59 L408.75,338.92 L409.45,337.22 L410.15,335.48 L410.85,333.68 L411.55,331.81 L412.25,329.87 L412.95,327.84 L413.65,325.74 L414.34,323.57 L415.04,321.36 L415.74,319.11 L416.44,316.87 L417.14,314.65 L417.84,312.51 L418.54,310.48 L419.23,308.60 L419.93,306.92 L420.63,305.47 L421.33,304.28 L422.03,303.39 L422.73,302.82 L423.43,302.58 L424.13,302.68 L424.82,303.12 L425.52,303.89 L426.22,304.96 L426.92,306.31 L427.62,307.90 L428.32,309.71 L429.02,311.68 L429.71,313.79 L430.41,315.97 L431.11,318.21 L431.81,320.46 L432.51,322.69 L433.21,324.88 L433.91,327.01 L434.61,329.07 L435.30,331.04 L436.00,332.94 L436.70,334.77 L437.40,336.53 L438.10,338.24 L438.80,339.92 L439.50,341.59 L440.19,343.25 L440.89,344.92 L441.59,346.61 L442.29,348.34 L442.99,350.09 L443.69,351.87 L444.39,353.67 L445.09,355.48 L445.78,357.26 L446.48,359.01 L447.18,360.69 L447.88,362.28 L448.58,363.74 L449.28,365.05 L449.98,366.20 L450.67,367.15 L451.37,367.89 L452.07,368.44 L452.77,368.79 L453.47,368.97 L454.17,369.01 L454.87,368.97 L455.57,368.79 L456.26,368.44 L456.96,367.89 L457.66,367.15 L458.36,366.20 L459.06,365.05 L459.76,363.74 L460.46,362.28 L461.15,360.69 L461.85,359.01 L462.55,357.26 L463.25,355.48 L463.95,353.67 L464.65,351.87 L465.35,350.09 L466.05,348.34 L466.74,346.61 L467.44,344.92 L468.14,343.25 L468.84,341.59 L469.54,339.92 L470.24,338.24 L470.94,336.53 L471.63,334.77 L472.33,332.94 L473.03,331.04 L473.73,329.07 L474.43,327.01 L475.13,324.88 L475.83,322.69 L476.53,320.46 L477.22,318.21 L477.92,315.97 L478.62,313.79 L479.32,311.68 L480.02,309.71 L480.72,307.90 L481.42,306.31 L482.11,304.96 L482.81,303.89 L483.51,303.12 L484.21,302.68 L484.91,302.58 L485.61,302.82 L486.31,303.39 L487.01,304.28 L487.70,305.47 L488.40,306.92 L489.10,308.60 L489.80,310.48 L490.50,312.51 L491.20,314.65 L491.90,316.87 L492.59,319.11 L493.29,321.36 L493.99,323.57 L494.69,325.74 L495.39,327.84 L496.09,329.87 L496.79,331.81 L497.49,333.68 L498.18,335.48 L498.88,337.22 L499.58,338.92 L500.28,340.59 L500.98,342.25 L501.68,343.91 L502.38,345.59 L503.07,347.30 L503.77,349.04 L504.47,350.80 L505.17,352.59 L505.87,354.40 L506.57,356.20 L507.27,357.97 L507.97,359.69 L508.66,361.34 L509.36,362.88 L510.06,364.29 L510.76,365.53 L511.46,366.60 L512.16,367.47 L512.86,368.14 L513.55,368.60 L514.25,368.88 L514.95,369.00 L515.65,369.00 L516.35,368.92 L517.05,368.67 L517.75,368.25 L518.45,367.62 L519.14,366.79 L519.84,365.76 L520.54,364.55 L521.24,363.17 L521.94,361.66 L522.64,360.03 L523.34,358.32 L524.03,356.55 L524.73,354.76 L525.43,352.95 L526.13,351.16 L526.83,349.39 L527.53,347.64 L528.23,345.93 L528.93,344.25 L529.62,342.58 L530.32,340.92 L531.02,339.26 L531.72,337.56 L532.42,335.83 L533.12,334.04 L533.82,332.19 L534.51,330.26 L535.21,328.25 L535.91,326.17 L536.61,324.01 L537.31,321.80 L538.01,319.56 L538.71,317.31 L539.41,315.09 L540.10,312.93 L540.80,310.88 L541.50,308.96 L542.20,307.24" fill="none" stroke="#ff6060" stroke-width="1.1" stroke-dasharray="0.9 1.9" stroke-linejoin="round" stroke-dashoffset="1.65"/>
<path d="M332.60,368.94 L333.30,368.74 L334.00,368.35 L334.70,367.76 L335.39,366.97 L336.09,365.98 L336.79,364.81 L337.49,363.46 L338.19,361.97 L338.89,360.36 L339.59,358.67 L340.29,356.91 L340.98,355.12 L341.68,353.31 L342.38,351.52 L343.08,349.74 L343.78,347.99 L344.48,346.27 L345.18,344.58 L345.87,342.91 L346.57,341.25 L347.27,339.59 L347.97,337.90 L348.67,336.18 L349.37,334.41 L350.07,332.57 L350.77,330.65 L351.46,328.66 L352.16,326.59 L352.86,324.45 L353.56,322.25 L354.26,320.01 L354.96,317.76 L355.66,315.53 L356.35,313.36 L357.05,311.28 L357.75,309.33 L358.45,307.57 L359.15,306.02 L359.85,304.72 L360.55,303.71 L361.25,303.01 L361.94,302.64 L362.64,302.60 L363.34,302.91 L364.04,303.54 L364.74,304.49 L365.44,305.74 L366.14,307.24 L366.83,308.96 L367.53,310.88 L368.23,312.93 L368.93,315.09 L369.63,317.31 L370.33,319.56 L371.03,321.80 L371.73,324.01 L372.42,326.17 L373.12,328.25 L373.82,330.26 L374.52,332.19 L375.22,334.04 L375.92,335.83 L376.62,337.56 L377.31,339.26 L378.01,340.92 L378.71,342.58 L379.41,344.25 L380.11,345.93 L380.81,347.64 L381.51,349.39 L382.21,351.16 L382.90,352.95 L383.60,354.76 L384.30,356.55 L385.00,358.32 L385.70,360.03 L386.40,361.66 L387.10,363.17 L387.79,364.55 L388.49,365.76 L389.19,366.79 L389.89,367.62 L390.59,368.25 L391.29,368.67 L391.99,368.92 L392.69,369.00 L393.38,369.00 L394.08,368.88 L394.78,368.60 L395.48,368.14 L396.18,367.47 L396.88,366.60 L397.58,365.53 L398.27,364.29 L398.97,362.88 L399.67,361.34 L400.37,359.69 L401.07,357.97 L401.77,356.20 L402.47,354.40 L403.17,352.59 L403.86,350.80 L404.56,349.04 L405.26,347.30 L405.96,345.59 L406.66,343.91 L407.36,342.25 L408.06,340.59 L408.75,338.92 L409.45,337.22 L410.15,335.48 L410.85,333.68 L411.55,331.81 L412.25,329.87 L412.95,327.84 L413.65,325.74 L414.34,323.57 L415.04,321.36 L415.74,319.11 L416.44,316.87 L417.14,314.65 L417.84,312.51 L418.54,310.48 L419.23,308.60 L419.93,306.92 L420.63,305.47 L421.33,304.28 L422.03,303.39 L422.73,302.82 L423.43,302.58 L424.13,302.68 L424.82,303.12 L425.52,303.89 L426.22,304.96 L426.92,306.31 L427.62,307.90 L428.32,309.71 L429.02,311.68 L429.71,313.79 L430.41,315.97 L431.11,318.21 L431.81,320.46 L432.51,322.69 L433.21,324.88 L433.91,327.01 L434.61,329.07 L435.30,331.04 L436.00,332.94 L436.70,334.77 L437.40,336.53 L438.10,338.24 L438.80,339.92 L439.50,341.59 L440.19,343.25 L440.89,344.92 L441.59,346.61 L442.29,348.34 L442.99,350.09 L443.69,351.87 L444.39,353.67 L445.09,355.48 L445.78,357.26 L446.48,359.01 L447.18,360.69 L447.88,362.28 L448.58,363.74 L449.28,365.05 L449.98,366.20 L450.67,367.15 L451.37,367.89 L452.07,368.44 L452.77,368.79 L453.47,368.97 L454.17,369.01 L454.87,368.97 L455.57,368.79 L456.26,368.44 L456.96,367.89 L457.66,367.15 L458.36,366.20 L459.06,365.05 L459.76,363.74 L460.46,362.28 L461.15,360.69 L461.85,359.01 L462.55,357.26 L463.25,355.48 L463.95,353.67 L464.65,351.87 L465.35,350.09 L466.05,348.34 L466.74,346.61 L467.44,344.92 L468.14,343.25 L468.84,341.59 L469.54,339.92 L470.24,338.24 L470.94,336.53 L471.63,334.77 L472.33,332.94 L473.03,331.04 L473.73,329.07 L474.43,327.01 L475.13,324.88 L475.83,322.69 L476.53,320.46 L477.22,318.21 L477.92,315.97 L478.62,313.79 L479.32,311.68 L480.02,309.71 L480.72,307.90 L481.42,306.31 L482.11,304.96 L482.81,303.89 L483.51,303.12 L484.21,302.68 L484.91,302.58 L485.61,302.82 L486.31,303.39 L487.01,304.28 L487.70,305.47 L488.40,306.92 L489.10,308.60 L489.80,310.48 L490.50,312.51 L491.20,314.65 L491.90,316.87 L492.59,319.11 L493.29,321.36 L493.99,323.57 L494.69,325.74 L495.39,327.84 L496.09,329.87 L496.79,331.81 L497.49,333.68 L498.18,335.48 L498.88,337.22 L499.58,338.92 L500.28,340.59 L500.98,342.25 L501.68,343.91 L502.38,345.59 L503.07,347.30 L503.77,349.04 L504.47,350.80 L505.17,352.59 L505.87,354.40 L506.57,356.20 L507.27,357.97 L507.97,359.69 L508.66,361.34 L509.36,362.88 L510.06,364.29 L510.76,365.53 L511.46,366.60 L512.16,367.47 L512.86,368.14 L513.55,368.60 L514.25,368.88 L514.95,369.00 L515.65,369.00 L516.35,368.92 L517.05,368.67 L517.75,368.25 L518.45,367.62 L519.14,366.79 L519.84,365.76 L520.54,364.55 L521.24,363.17 L521.94,361.66 L522.64,360.03 L523.34,358.32 L524.03,356.55 L524.73,354.76 L525.43,352.95 L526.13,351.16 L526.83,349.39 L527.53,347.64 L528.23,345.93 L528.93,344.25 L529.62,342.58 L530.32,340.92 L531.02,339.26 L531.72,337.56 L532.42,335.83 L533.12,334.04 L533.82,332.19 L534.51,330.26 L535.21,328.25 L535.91,326.17 L536.61,324.01 L537.31,321.80 L538.01,319.56 L538.71,317.31 L539.41,315.09 L540.10,312.93 L540.80,310.88 L541.50,308.96 L542.20,307.24" fill="none" stroke="#3a7af0" stroke-width="1.35" stroke-dasharray="1.4 1.4" stroke-linejoin="round" stroke-dashoffset="0.5"/>
<line x1="362.40" y1="297.40" x2="423.60" y2="297.40" stroke="#ff7a7a" stroke-width="0.9" stroke-dasharray="0.8 0.5"/>
<path d="M362.40,297.40 L367.40,295.70 L367.40,299.10 Z" fill="#ff1a1a"/>
<path d="M423.60,297.40 L418.60,295.70 L418.60,299.10 Z" fill="#ff1a1a"/>
<line x1="362.40" y1="295.60" x2="362.40" y2="299.20" stroke="#ff7a7a" stroke-width="0.6"/>
<line x1="423.60" y1="295.60" x2="423.60" y2="299.20" stroke="#ff7a7a" stroke-width="0.6"/>
<line x1="393.00" y1="295.60" x2="393.00" y2="299.20" stroke="#ff7a7a" stroke-width="0.7"/>
<text x="393.60" y="284.00" font-size="7.7" text-anchor="middle" fill="#ff3838" stroke="#ff3838" stroke-width="0.22">3.60 + 3.70</text>
<text x="396.00" y="293.60" font-size="7.7" text-anchor="middle" fill="#ff3838" stroke="#ff3838" stroke-width="0.22">7.30s</text>
<line x1="458.00" y1="297.40" x2="520.00" y2="297.40" stroke="#7a7a7a" stroke-width="0.9"/>
<path d="M458.00,297.40 L463.00,295.70 L463.00,299.10 Z" fill="#111"/>
<path d="M520.00,297.40 L515.00,295.70 L515.00,299.10 Z" fill="#111"/>
<line x1="458.00" y1="295.60" x2="458.00" y2="299.20" stroke="#7a7a7a" stroke-width="0.6"/>
<line x1="520.00" y1="295.60" x2="520.00" y2="299.20" stroke="#7a7a7a" stroke-width="0.6"/>
<line x1="489.30" y1="295.60" x2="489.30" y2="299.20" stroke="#7a7a7a" stroke-width="0.7"/>
<text x="489.20" y="284.00" font-size="7.7" text-anchor="middle" fill="#2a2a2a" stroke="#2a2a2a" stroke-width="0.22">3.70 + 3.70</text>
<text x="492.00" y="293.40" font-size="7.7" text-anchor="middle" fill="#2a2a2a" stroke="#2a2a2a" stroke-width="0.22">7.40s</text>
<line x1="362.40" y1="374.40" x2="424.00" y2="374.40" stroke="#8a8aff" stroke-width="0.9"/>
<path d="M362.40,374.40 L367.40,372.70 L367.40,376.10 Z" fill="#1414ff"/>
<path d="M424.00,374.40 L419.00,372.70 L419.00,376.10 Z" fill="#1414ff"/>
<line x1="362.40" y1="372.60" x2="362.40" y2="376.20" stroke="#8a8aff" stroke-width="0.6"/>
<line x1="424.00" y1="372.60" x2="424.00" y2="376.20" stroke="#8a8aff" stroke-width="0.6"/>
<line x1="393.00" y1="372.60" x2="393.00" y2="376.20" stroke="#8a8aff" stroke-width="0.7"/>
<text x="393.60" y="385.90" font-size="7.7" text-anchor="middle" fill="#4040f0" stroke="#4040f0" stroke-width="0.22">3.60 + 3.70</text>
<text x="396.00" y="395.70" font-size="7.7" text-anchor="middle" fill="#4040f0" stroke="#4040f0" stroke-width="0.22">7.30s</text>
<text x="29.80" y="229.00" font-size="13" fill="#1a1a1a" textLength="189.6" lengthAdjust="spacingAndGlyphs" stroke="#1a1a1a" stroke-width="0.22">(<tspan font-weight="bold">a</tspan>) surge variation of structure 1</text>
<text x="326.00" y="229.00" font-size="13" fill="#1a1a1a" textLength="190.4" lengthAdjust="spacingAndGlyphs" stroke="#1a1a1a" stroke-width="0.22">(<tspan font-weight="bold">b</tspan>) surge variation of structure 5</text>
<text x="27.20" y="470.60" font-size="13" fill="#1a1a1a" textLength="195.2" lengthAdjust="spacingAndGlyphs" stroke="#1a1a1a" stroke-width="0.22">(<tspan font-weight="bold">c</tspan>) surge variation of structure 10</text>
<text x="325.40" y="470.60" font-size="13" fill="#1a1a1a" textLength="193.0" lengthAdjust="spacingAndGlyphs" stroke="#1a1a1a" stroke-width="0.22">(<tspan font-weight="bold">d</tspan>) heave variation of structure 1</text>
</svg>
</body></html>
